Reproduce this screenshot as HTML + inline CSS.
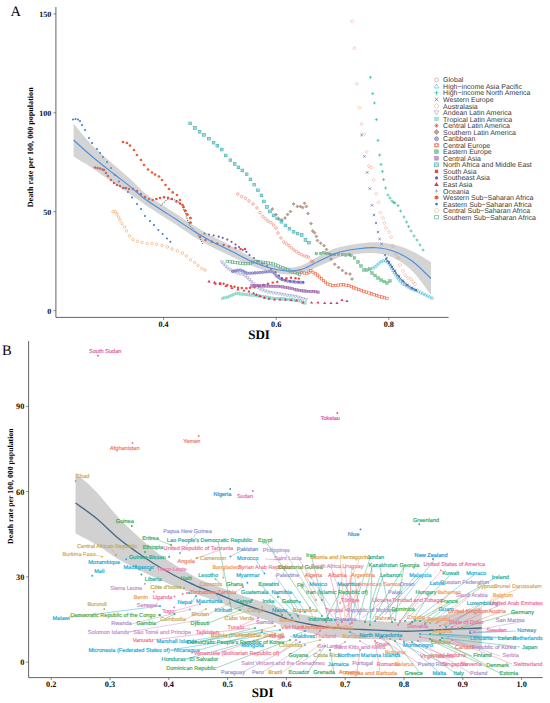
<!DOCTYPE html><html><head><meta charset="utf-8"><style>html,body{margin:0;padding:0;background:#fff}svg{display:block}</style></head><body>
<svg width="550" height="703" viewBox="0 0 550 703" text-rendering="geometricPrecision">
<rect width="550" height="703" fill="#fff"/>
<text x="10.5" y="15.8" font-family="Liberation Serif" font-size="14.5" fill="#000">A</text>
<circle cx="237.8" cy="194" r="1.30" fill="none" stroke="#f47a6c" stroke-width="0.6"/>
<circle cx="241.6" cy="196.5" r="1.30" fill="none" stroke="#f47a6c" stroke-width="0.6"/>
<circle cx="245.4" cy="198.3" r="1.30" fill="none" stroke="#f47a6c" stroke-width="0.6"/>
<circle cx="249" cy="200.9" r="1.30" fill="none" stroke="#f47a6c" stroke-width="0.6"/>
<circle cx="253" cy="204" r="1.30" fill="none" stroke="#f47a6c" stroke-width="0.6"/>
<circle cx="257" cy="208" r="1.30" fill="none" stroke="#f47a6c" stroke-width="0.6"/>
<circle cx="260" cy="212.7" r="1.30" fill="none" stroke="#f47a6c" stroke-width="0.6"/>
<circle cx="262.7" cy="216.4" r="1.30" fill="none" stroke="#f47a6c" stroke-width="0.6"/>
<circle cx="265.5" cy="218.5" r="1.30" fill="none" stroke="#f47a6c" stroke-width="0.6"/>
<circle cx="268" cy="221" r="1.30" fill="none" stroke="#f47a6c" stroke-width="0.6"/>
<circle cx="271" cy="222.7" r="1.30" fill="none" stroke="#f47a6c" stroke-width="0.6"/>
<circle cx="273.6" cy="225" r="1.30" fill="none" stroke="#f47a6c" stroke-width="0.6"/>
<circle cx="276" cy="228" r="1.30" fill="none" stroke="#f47a6c" stroke-width="0.6"/>
<circle cx="278" cy="233" r="1.30" fill="none" stroke="#f47a6c" stroke-width="0.6"/>
<circle cx="281" cy="238" r="1.30" fill="none" stroke="#f47a6c" stroke-width="0.6"/>
<circle cx="283.8" cy="242" r="1.30" fill="none" stroke="#f47a6c" stroke-width="0.6"/>
<circle cx="286.4" cy="243.8" r="1.30" fill="none" stroke="#f47a6c" stroke-width="0.6"/>
<circle cx="289" cy="245.7" r="1.30" fill="none" stroke="#f47a6c" stroke-width="0.6"/>
<circle cx="291.5" cy="247.9" r="1.30" fill="none" stroke="#f47a6c" stroke-width="0.6"/>
<circle cx="294" cy="250" r="1.30" fill="none" stroke="#f47a6c" stroke-width="0.6"/>
<circle cx="296.5" cy="251.7" r="1.30" fill="none" stroke="#f47a6c" stroke-width="0.6"/>
<circle cx="299" cy="253.4" r="1.30" fill="none" stroke="#f47a6c" stroke-width="0.6"/>
<circle cx="301.6" cy="254.6" r="1.30" fill="none" stroke="#f47a6c" stroke-width="0.6"/>
<circle cx="304.2" cy="256" r="1.30" fill="none" stroke="#f47a6c" stroke-width="0.6"/>
<circle cx="306.7" cy="256.5" r="1.30" fill="none" stroke="#f47a6c" stroke-width="0.6"/>
<circle cx="308.6" cy="257.2" r="1.30" fill="none" stroke="#f47a6c" stroke-width="0.6"/>
<circle cx="311.2" cy="261" r="1.30" fill="none" stroke="#f47a6c" stroke-width="0.6"/>
<circle cx="313" cy="261.6" r="1.30" fill="none" stroke="#f47a6c" stroke-width="0.6"/>
<path d="M373.0 266.4L374.6 269.1L371.4 269.1Z" fill="none" stroke="#35b8d8" stroke-width="0.55"/>
<path d="M375.1 265.0L376.7 267.7L373.5 267.7Z" fill="none" stroke="#35b8d8" stroke-width="0.55"/>
<path d="M377.1 263.3L378.7 266.0L375.5 266.0Z" fill="none" stroke="#35b8d8" stroke-width="0.55"/>
<path d="M378.9 261.5L380.5 264.2L377.3 264.2Z" fill="none" stroke="#35b8d8" stroke-width="0.55"/>
<path d="M381.0 260.0L382.6 262.7L379.4 262.7Z" fill="none" stroke="#35b8d8" stroke-width="0.55"/>
<path d="M383.3 259.0L384.9 261.7L381.7 261.7Z" fill="none" stroke="#35b8d8" stroke-width="0.55"/>
<path d="M385.7 258.9L387.3 261.6L384.1 261.6Z" fill="none" stroke="#35b8d8" stroke-width="0.55"/>
<path d="M387.8 260.3L389.4 263.0L386.2 263.0Z" fill="none" stroke="#35b8d8" stroke-width="0.55"/>
<path d="M389.4 262.3L391.0 265.0L387.8 265.0Z" fill="none" stroke="#35b8d8" stroke-width="0.55"/>
<path d="M391.0 264.3L392.6 267.0L389.4 267.0Z" fill="none" stroke="#35b8d8" stroke-width="0.55"/>
<path d="M392.1 266.6L393.7 269.3L390.5 269.3Z" fill="none" stroke="#35b8d8" stroke-width="0.55"/>
<path d="M393.3 268.9L394.9 271.6L391.7 271.6Z" fill="none" stroke="#35b8d8" stroke-width="0.55"/>
<path d="M394.5 271.2L396.1 273.9L392.9 273.9Z" fill="none" stroke="#35b8d8" stroke-width="0.55"/>
<path d="M396.0 273.3L397.6 276.0L394.4 276.0Z" fill="none" stroke="#35b8d8" stroke-width="0.55"/>
<path d="M397.4 275.5L399.0 278.2L395.8 278.2Z" fill="none" stroke="#35b8d8" stroke-width="0.55"/>
<path d="M398.9 277.5L400.5 280.2L397.3 280.2Z" fill="none" stroke="#35b8d8" stroke-width="0.55"/>
<path d="M400.5 279.5L402.1 282.2L398.9 282.2Z" fill="none" stroke="#35b8d8" stroke-width="0.55"/>
<path d="M402.2 281.5L403.8 284.2L400.6 284.2Z" fill="none" stroke="#35b8d8" stroke-width="0.55"/>
<path d="M404.4 282.8L406.0 285.5L402.8 285.5Z" fill="none" stroke="#35b8d8" stroke-width="0.55"/>
<path d="M406.6 284.1L408.2 286.8L405.0 286.8Z" fill="none" stroke="#35b8d8" stroke-width="0.55"/>
<path d="M408.8 285.5L410.4 288.2L407.2 288.2Z" fill="none" stroke="#35b8d8" stroke-width="0.55"/>
<path d="M411.0 286.8L412.6 289.5L409.4 289.5Z" fill="none" stroke="#35b8d8" stroke-width="0.55"/>
<path d="M413.3 287.8L414.9 290.5L411.7 290.5Z" fill="none" stroke="#35b8d8" stroke-width="0.55"/>
<path d="M415.8 288.7L417.4 291.4L414.2 291.4Z" fill="none" stroke="#35b8d8" stroke-width="0.55"/>
<path d="M418.2 289.5L419.8 292.2L416.6 292.2Z" fill="none" stroke="#35b8d8" stroke-width="0.55"/>
<path d="M420.5 290.6L422.1 293.3L418.9 293.3Z" fill="none" stroke="#35b8d8" stroke-width="0.55"/>
<path d="M422.8 291.8L424.4 294.5L421.2 294.5Z" fill="none" stroke="#35b8d8" stroke-width="0.55"/>
<path d="M425.1 292.9L426.7 295.6L423.5 295.6Z" fill="none" stroke="#35b8d8" stroke-width="0.55"/>
<path d="M427.4 294.1L429.0 296.8L425.8 296.8Z" fill="none" stroke="#35b8d8" stroke-width="0.55"/>
<path d="M429.7 295.2L431.3 297.9L428.1 297.9Z" fill="none" stroke="#35b8d8" stroke-width="0.55"/>
<path d="M432.0 296.4L433.6 299.1L430.4 299.1Z" fill="none" stroke="#35b8d8" stroke-width="0.55"/>
<path d="M369.0 77.3H372.0M370.5 75.8V78.8" stroke="#2bb99a" stroke-width="0.7"/>
<path d="M371.2 93.6H374.2M372.7 92.1V95.1" stroke="#2bb99a" stroke-width="0.7"/>
<path d="M372.9 103H375.9M374.4 101.5V104.5" stroke="#2bb99a" stroke-width="0.7"/>
<path d="M374.9 119.6H377.9M376.4 118.1V121.1" stroke="#2bb99a" stroke-width="0.7"/>
<path d="M376.5 140.4H379.5M378 138.9V141.9" stroke="#2bb99a" stroke-width="0.7"/>
<path d="M378.1 155H381.1M379.6 153.5V156.5" stroke="#2bb99a" stroke-width="0.7"/>
<path d="M379.5 164.4H382.5M381 162.9V165.9" stroke="#2bb99a" stroke-width="0.7"/>
<path d="M380.9 171.4H383.9M382.4 169.9V172.9" stroke="#2bb99a" stroke-width="0.7"/>
<path d="M382.1 179.6H385.1M383.6 178.1V181.1" stroke="#2bb99a" stroke-width="0.7"/>
<path d="M384.1 188H387.1M385.6 186.5V189.5" stroke="#2bb99a" stroke-width="0.7"/>
<path d="M386.5 195H389.5M388 193.5V196.5" stroke="#2bb99a" stroke-width="0.7"/>
<path d="M388.5 198H391.5M390 196.5V199.5" stroke="#2bb99a" stroke-width="0.7"/>
<path d="M390.5 201H393.5M392 199.5V202.5" stroke="#2bb99a" stroke-width="0.7"/>
<path d="M392.1 202.4H395.1M393.6 200.9V203.9" stroke="#2bb99a" stroke-width="0.7"/>
<path d="M393.5 203H396.5M395 201.5V204.5" stroke="#2bb99a" stroke-width="0.7"/>
<path d="M396.5 205.6H399.5M398 204.1V207.1" stroke="#2bb99a" stroke-width="0.7"/>
<path d="M399.1 211H402.1M400.6 209.5V212.5" stroke="#2bb99a" stroke-width="0.7"/>
<path d="M402.5 217H405.5M404 215.5V218.5" stroke="#2bb99a" stroke-width="0.7"/>
<path d="M405.1 222H408.1M406.6 220.5V223.5" stroke="#2bb99a" stroke-width="0.7"/>
<path d="M407.1 226.6H410.1M408.6 225.1V228.1" stroke="#2bb99a" stroke-width="0.7"/>
<path d="M409.5 231H412.5M411 229.5V232.5" stroke="#2bb99a" stroke-width="0.7"/>
<path d="M412.5 236H415.5M414 234.5V237.5" stroke="#2bb99a" stroke-width="0.7"/>
<path d="M415.5 240H418.5M417 238.5V241.5" stroke="#2bb99a" stroke-width="0.7"/>
<path d="M418.5 245H421.5M420 243.5V246.5" stroke="#2bb99a" stroke-width="0.7"/>
<path d="M421.5 250H424.5M423 248.5V251.5" stroke="#2bb99a" stroke-width="0.7"/>
<path d="M360.4 133.8L362.8 136.2M360.4 136.2L362.8 133.8" stroke="#4c5a9c" stroke-width="0.65"/>
<path d="M363.2 155.2L365.6 157.6M363.2 157.6L365.6 155.2" stroke="#4c5a9c" stroke-width="0.65"/>
<path d="M366.0 171.2L368.4 173.6M366.0 173.6L368.4 171.2" stroke="#4c5a9c" stroke-width="0.65"/>
<path d="M368.6 187.4L371.0 189.8M368.6 189.8L371.0 187.4" stroke="#4c5a9c" stroke-width="0.65"/>
<path d="M370.8 204.2L373.2 206.6M370.8 206.6L373.2 204.2" stroke="#4c5a9c" stroke-width="0.65"/>
<path d="M372.8 213.8L375.2 216.2M372.8 216.2L375.2 213.8" stroke="#4c5a9c" stroke-width="0.65"/>
<path d="M374.8 221.8L377.2 224.2M374.8 224.2L377.2 221.8" stroke="#4c5a9c" stroke-width="0.65"/>
<path d="M376.8 230.8L379.2 233.2M376.8 233.2L379.2 230.8" stroke="#4c5a9c" stroke-width="0.65"/>
<path d="M378.4 237.8L380.8 240.2M378.4 240.2L380.8 237.8" stroke="#4c5a9c" stroke-width="0.65"/>
<path d="M380.4 242.8L382.8 245.2M380.4 245.2L382.8 242.8" stroke="#4c5a9c" stroke-width="0.65"/>
<path d="M383.8 253.8L386.2 256.2M383.8 256.2L386.2 253.8" stroke="#4c5a9c" stroke-width="0.65"/>
<path d="M385.4 256.8L387.8 259.2M385.4 259.2L387.8 256.8" stroke="#4c5a9c" stroke-width="0.65"/>
<path d="M387.8 260.8L390.2 263.2M387.8 263.2L390.2 260.8" stroke="#4c5a9c" stroke-width="0.65"/>
<path d="M390.8 265.8L393.2 268.2M390.8 268.2L393.2 265.8" stroke="#4c5a9c" stroke-width="0.65"/>
<path d="M393.8 269.8L396.2 272.2M393.8 272.2L396.2 269.8" stroke="#4c5a9c" stroke-width="0.65"/>
<path d="M397.8 274.8L400.2 277.2M397.8 277.2L400.2 274.8" stroke="#4c5a9c" stroke-width="0.65"/>
<path d="M401.8 279.8L404.2 282.2M401.8 282.2L404.2 279.8" stroke="#4c5a9c" stroke-width="0.65"/>
<path d="M405.8 283.8L408.2 286.2M405.8 286.2L408.2 283.8" stroke="#4c5a9c" stroke-width="0.65"/>
<path d="M410.8 286.8L413.2 289.2M410.8 289.2L413.2 286.8" stroke="#4c5a9c" stroke-width="0.65"/>
<path d="M414.8 288.8L417.2 291.2M414.8 291.2L417.2 288.8" stroke="#4c5a9c" stroke-width="0.65"/>
<path d="M384.9 257.9L387.1 260.1M384.9 260.1L387.1 257.9" stroke="#4c5a9c" stroke-width="0.65"/>
<path d="M386.4 259.8L388.6 262.0M386.4 262.0L388.6 259.8" stroke="#4c5a9c" stroke-width="0.65"/>
<path d="M387.8 261.8L390.0 264.0M387.8 264.0L390.0 261.8" stroke="#4c5a9c" stroke-width="0.65"/>
<path d="M389.3 263.7L391.5 265.9M389.3 265.9L391.5 263.7" stroke="#4c5a9c" stroke-width="0.65"/>
<path d="M390.7 265.7L392.9 267.9M390.7 267.9L392.9 265.7" stroke="#4c5a9c" stroke-width="0.65"/>
<path d="M392.1 267.7L394.3 269.9M392.1 269.9L394.3 267.7" stroke="#4c5a9c" stroke-width="0.65"/>
<path d="M393.5 269.7L395.7 271.9M393.5 271.9L395.7 269.7" stroke="#4c5a9c" stroke-width="0.65"/>
<path d="M394.8 271.8L397.0 274.0M394.8 274.0L397.0 271.8" stroke="#4c5a9c" stroke-width="0.65"/>
<path d="M396.2 273.8L398.4 276.0M396.2 276.0L398.4 273.8" stroke="#4c5a9c" stroke-width="0.65"/>
<path d="M397.7 275.7L399.9 277.9M397.7 277.9L399.9 275.7" stroke="#4c5a9c" stroke-width="0.65"/>
<path d="M399.4 277.4L401.6 279.6M399.4 279.6L401.6 277.4" stroke="#4c5a9c" stroke-width="0.65"/>
<path d="M401.1 279.1L403.3 281.3M401.1 281.3L403.3 279.1" stroke="#4c5a9c" stroke-width="0.65"/>
<path d="M402.8 280.8L405.0 283.0M402.8 283.0L405.0 280.8" stroke="#4c5a9c" stroke-width="0.65"/>
<path d="M404.7 282.4L406.9 284.6M404.7 284.6L406.9 282.4" stroke="#4c5a9c" stroke-width="0.65"/>
<path d="M406.6 284.0L408.8 286.2M406.6 286.2L408.8 284.0" stroke="#4c5a9c" stroke-width="0.65"/>
<path d="M408.4 285.5L410.6 287.7M408.4 287.7L410.6 285.5" stroke="#4c5a9c" stroke-width="0.65"/>
<path d="M410.5 286.7L412.7 288.9M410.5 288.9L412.7 286.7" stroke="#4c5a9c" stroke-width="0.65"/>
<path d="M412.7 287.8L414.9 290.0M412.7 290.0L414.9 287.8" stroke="#4c5a9c" stroke-width="0.65"/>
<path d="M414.9 288.9L417.1 291.1M414.9 291.1L417.1 288.9" stroke="#4c5a9c" stroke-width="0.65"/>
<path d="M352.2 19.6L353.9 21.3L352.2 23.0L350.5 21.3Z" fill="none" stroke="#f59a82" stroke-width="0.55"/>
<path d="M354.4 46.6L356.1 48.3L354.4 50.0L352.7 48.3Z" fill="none" stroke="#f59a82" stroke-width="0.55"/>
<path d="M356.8 82.0L358.5 83.7L356.8 85.4L355.1 83.7Z" fill="none" stroke="#f59a82" stroke-width="0.55"/>
<path d="M359.4 105.9L361.1 107.6L359.4 109.3L357.7 107.6Z" fill="none" stroke="#f59a82" stroke-width="0.55"/>
<path d="M361.6 122.3L363.3 124L361.6 125.7L359.9 124Z" fill="none" stroke="#f59a82" stroke-width="0.55"/>
<path d="M364.4 132.3L366.1 134L364.4 135.7L362.7 134Z" fill="none" stroke="#f59a82" stroke-width="0.55"/>
<path d="M366.6 150.3L368.3 152L366.6 153.7L364.9 152Z" fill="none" stroke="#f59a82" stroke-width="0.55"/>
<path d="M369 164.3L370.7 166L369 167.7L367.3 166Z" fill="none" stroke="#f59a82" stroke-width="0.55"/>
<path d="M371.4 165.9L373.1 167.6L371.4 169.3L369.7 167.6Z" fill="none" stroke="#f59a82" stroke-width="0.55"/>
<path d="M373.6 178.3L375.3 180L373.6 181.7L371.9 180Z" fill="none" stroke="#f59a82" stroke-width="0.55"/>
<path d="M376.4 191.9L378.1 193.6L376.4 195.3L374.7 193.6Z" fill="none" stroke="#f59a82" stroke-width="0.55"/>
<path d="M378.6 200.7L380.3 202.4L378.6 204.1L376.9 202.4Z" fill="none" stroke="#f59a82" stroke-width="0.55"/>
<path d="M380.6 210.9L382.3 212.6L380.6 214.3L378.9 212.6Z" fill="none" stroke="#f59a82" stroke-width="0.55"/>
<path d="M383 216.3L384.7 218L383 219.7L381.3 218Z" fill="none" stroke="#f59a82" stroke-width="0.55"/>
<path d="M384.4 221.3L386.1 223L384.4 224.7L382.7 223Z" fill="none" stroke="#f59a82" stroke-width="0.55"/>
<path d="M386 226.3L387.7 228L386 229.7L384.3 228Z" fill="none" stroke="#f59a82" stroke-width="0.55"/>
<path d="M389 230.3L390.7 232L389 233.7L387.3 232Z" fill="none" stroke="#f59a82" stroke-width="0.55"/>
<path d="M391 235.3L392.7 237L391 238.7L389.3 237Z" fill="none" stroke="#f59a82" stroke-width="0.55"/>
<path d="M393 244.3L394.7 246L393 247.7L391.3 246Z" fill="none" stroke="#f59a82" stroke-width="0.55"/>
<path d="M396 252.3L397.7 254L396 255.7L394.3 254Z" fill="none" stroke="#f59a82" stroke-width="0.55"/>
<path d="M398 256.3L399.7 258L398 259.7L396.3 258Z" fill="none" stroke="#f59a82" stroke-width="0.55"/>
<path d="M400 263.3L401.7 265L400 266.7L398.3 265Z" fill="none" stroke="#f59a82" stroke-width="0.55"/>
<path d="M403 269.3L404.7 271L403 272.7L401.3 271Z" fill="none" stroke="#f59a82" stroke-width="0.55"/>
<path d="M405 273.3L406.7 275L405 276.7L403.3 275Z" fill="none" stroke="#f59a82" stroke-width="0.55"/>
<path d="M408 276.3L409.7 278L408 279.7L406.3 278Z" fill="none" stroke="#f59a82" stroke-width="0.55"/>
<path d="M411 277.3L412.7 279L411 280.7L409.3 279Z" fill="none" stroke="#f59a82" stroke-width="0.55"/>
<path d="M413 280.3L414.7 282L413 283.7L411.3 282Z" fill="none" stroke="#f59a82" stroke-width="0.55"/>
<path d="M415 282.3L416.7 284L415 285.7L413.3 284Z" fill="none" stroke="#f59a82" stroke-width="0.55"/>
<path d="M221.8 263.6L223.4 260.9L220.2 260.9Z" fill="none" stroke="#9297cc" stroke-width="0.55"/>
<path d="M223.7 265.7L225.3 263.0L222.1 263.0Z" fill="none" stroke="#9297cc" stroke-width="0.55"/>
<path d="M225.6 267.7L227.2 265.0L224.0 265.0Z" fill="none" stroke="#9297cc" stroke-width="0.55"/>
<path d="M227.5 269.7L229.1 267.0L225.9 267.0Z" fill="none" stroke="#9297cc" stroke-width="0.55"/>
<path d="M229.8 271.3L231.4 268.6L228.2 268.6Z" fill="none" stroke="#9297cc" stroke-width="0.55"/>
<path d="M232.3 272.6L233.9 269.9L230.7 269.9Z" fill="none" stroke="#9297cc" stroke-width="0.55"/>
<path d="M234.9 273.7L236.5 271.0L233.3 271.0Z" fill="none" stroke="#9297cc" stroke-width="0.55"/>
<path d="M237.5 274.7L239.1 272.0L235.9 272.0Z" fill="none" stroke="#9297cc" stroke-width="0.55"/>
<path d="M240.2 275.6L241.8 272.9L238.6 272.9Z" fill="none" stroke="#9297cc" stroke-width="0.55"/>
<path d="M242.9 276.2L244.5 273.5L241.3 273.5Z" fill="none" stroke="#9297cc" stroke-width="0.55"/>
<path d="M245.3 277.4L246.9 274.7L243.7 274.7Z" fill="none" stroke="#9297cc" stroke-width="0.55"/>
<path d="M247.3 279.3L248.9 276.6L245.7 276.6Z" fill="none" stroke="#9297cc" stroke-width="0.55"/>
<path d="M249.3 281.3L250.9 278.6L247.7 278.6Z" fill="none" stroke="#9297cc" stroke-width="0.55"/>
<path d="M251.3 283.3L252.9 280.6L249.7 280.6Z" fill="none" stroke="#9297cc" stroke-width="0.55"/>
<path d="M253.3 285.3L254.9 282.6L251.7 282.6Z" fill="none" stroke="#9297cc" stroke-width="0.55"/>
<path d="M255.3 287.2L256.9 284.5L253.7 284.5Z" fill="none" stroke="#9297cc" stroke-width="0.55"/>
<path d="M257.5 289.0L259.1 286.3L255.9 286.3Z" fill="none" stroke="#9297cc" stroke-width="0.55"/>
<path d="M259.8 290.5L261.4 287.8L258.2 287.8Z" fill="none" stroke="#9297cc" stroke-width="0.55"/>
<path d="M262.4 291.6L264.0 288.9L260.8 288.9Z" fill="none" stroke="#9297cc" stroke-width="0.55"/>
<path d="M265.0 292.6L266.6 289.9L263.4 289.9Z" fill="none" stroke="#9297cc" stroke-width="0.55"/>
<path d="M267.7 293.5L269.3 290.8L266.1 290.8Z" fill="none" stroke="#9297cc" stroke-width="0.55"/>
<path d="M270.4 294.1L272.0 291.4L268.8 291.4Z" fill="none" stroke="#9297cc" stroke-width="0.55"/>
<path d="M273.1 294.6L274.7 291.9L271.5 291.9Z" fill="none" stroke="#9297cc" stroke-width="0.55"/>
<path d="M275.9 295.0L277.5 292.3L274.3 292.3Z" fill="none" stroke="#9297cc" stroke-width="0.55"/>
<path d="M278.7 295.4L280.3 292.7L277.1 292.7Z" fill="none" stroke="#9297cc" stroke-width="0.55"/>
<path d="M281.5 295.9L283.1 293.2L279.9 293.2Z" fill="none" stroke="#9297cc" stroke-width="0.55"/>
<path d="M284.2 296.4L285.8 293.7L282.6 293.7Z" fill="none" stroke="#9297cc" stroke-width="0.55"/>
<path d="M287.0 296.9L288.6 294.2L285.4 294.2Z" fill="none" stroke="#9297cc" stroke-width="0.55"/>
<path d="M289.7 297.4L291.3 294.7L288.1 294.7Z" fill="none" stroke="#9297cc" stroke-width="0.55"/>
<path d="M292.5 297.7L294.1 295.0L290.9 295.0Z" fill="none" stroke="#9297cc" stroke-width="0.55"/>
<path d="M295.3 298.0L296.9 295.3L293.7 295.3Z" fill="none" stroke="#9297cc" stroke-width="0.55"/>
<path d="M298.0 298.7L299.6 296.0L296.4 296.0Z" fill="none" stroke="#9297cc" stroke-width="0.55"/>
<path d="M300.6 299.6L302.2 296.9L299.0 296.9Z" fill="none" stroke="#9297cc" stroke-width="0.55"/>
<path d="M303.3 300.4L304.9 297.7L301.7 297.7Z" fill="none" stroke="#9297cc" stroke-width="0.55"/>
<path d="M306.0 301.2L307.6 298.5L304.4 298.5Z" fill="none" stroke="#9297cc" stroke-width="0.55"/>
<rect x="221.5" y="297.1" width="2.4" height="2.4" fill="#72d1b9" fill-opacity="0.6" stroke="#72d1b9" stroke-width="0.4"/>
<rect x="223.8" y="296.5" width="2.4" height="2.4" fill="#72d1b9" fill-opacity="0.6" stroke="#72d1b9" stroke-width="0.4"/>
<rect x="226.2" y="296.0" width="2.4" height="2.4" fill="#72d1b9" fill-opacity="0.6" stroke="#72d1b9" stroke-width="0.4"/>
<rect x="228.4" y="295.1" width="2.4" height="2.4" fill="#72d1b9" fill-opacity="0.6" stroke="#72d1b9" stroke-width="0.4"/>
<rect x="230.6" y="294.2" width="2.4" height="2.4" fill="#72d1b9" fill-opacity="0.6" stroke="#72d1b9" stroke-width="0.4"/>
<rect x="232.8" y="293.1" width="2.4" height="2.4" fill="#72d1b9" fill-opacity="0.6" stroke="#72d1b9" stroke-width="0.4"/>
<rect x="235.0" y="292.1" width="2.4" height="2.4" fill="#72d1b9" fill-opacity="0.6" stroke="#72d1b9" stroke-width="0.4"/>
<rect x="237.3" y="292.4" width="2.4" height="2.4" fill="#72d1b9" fill-opacity="0.6" stroke="#72d1b9" stroke-width="0.4"/>
<rect x="239.7" y="292.8" width="2.4" height="2.4" fill="#72d1b9" fill-opacity="0.6" stroke="#72d1b9" stroke-width="0.4"/>
<rect x="242.1" y="293.1" width="2.4" height="2.4" fill="#72d1b9" fill-opacity="0.6" stroke="#72d1b9" stroke-width="0.4"/>
<rect x="244.5" y="293.4" width="2.4" height="2.4" fill="#72d1b9" fill-opacity="0.6" stroke="#72d1b9" stroke-width="0.4"/>
<rect x="246.9" y="293.6" width="2.4" height="2.4" fill="#72d1b9" fill-opacity="0.6" stroke="#72d1b9" stroke-width="0.4"/>
<rect x="249.3" y="293.8" width="2.4" height="2.4" fill="#72d1b9" fill-opacity="0.6" stroke="#72d1b9" stroke-width="0.4"/>
<rect x="251.7" y="293.9" width="2.4" height="2.4" fill="#72d1b9" fill-opacity="0.6" stroke="#72d1b9" stroke-width="0.4"/>
<rect x="254.1" y="294.1" width="2.4" height="2.4" fill="#72d1b9" fill-opacity="0.6" stroke="#72d1b9" stroke-width="0.4"/>
<rect x="256.5" y="294.5" width="2.4" height="2.4" fill="#72d1b9" fill-opacity="0.6" stroke="#72d1b9" stroke-width="0.4"/>
<rect x="258.8" y="294.9" width="2.4" height="2.4" fill="#72d1b9" fill-opacity="0.6" stroke="#72d1b9" stroke-width="0.4"/>
<rect x="261.2" y="295.4" width="2.4" height="2.4" fill="#72d1b9" fill-opacity="0.6" stroke="#72d1b9" stroke-width="0.4"/>
<rect x="263.6" y="295.7" width="2.4" height="2.4" fill="#72d1b9" fill-opacity="0.6" stroke="#72d1b9" stroke-width="0.4"/>
<rect x="266.0" y="296.0" width="2.4" height="2.4" fill="#72d1b9" fill-opacity="0.6" stroke="#72d1b9" stroke-width="0.4"/>
<rect x="268.3" y="296.5" width="2.4" height="2.4" fill="#72d1b9" fill-opacity="0.6" stroke="#72d1b9" stroke-width="0.4"/>
<rect x="270.7" y="296.9" width="2.4" height="2.4" fill="#72d1b9" fill-opacity="0.6" stroke="#72d1b9" stroke-width="0.4"/>
<rect x="273.1" y="297.2" width="2.4" height="2.4" fill="#72d1b9" fill-opacity="0.6" stroke="#72d1b9" stroke-width="0.4"/>
<rect x="275.5" y="297.3" width="2.4" height="2.4" fill="#72d1b9" fill-opacity="0.6" stroke="#72d1b9" stroke-width="0.4"/>
<rect x="277.9" y="297.5" width="2.4" height="2.4" fill="#72d1b9" fill-opacity="0.6" stroke="#72d1b9" stroke-width="0.4"/>
<rect x="280.3" y="297.6" width="2.4" height="2.4" fill="#72d1b9" fill-opacity="0.6" stroke="#72d1b9" stroke-width="0.4"/>
<rect x="282.7" y="297.8" width="2.4" height="2.4" fill="#72d1b9" fill-opacity="0.6" stroke="#72d1b9" stroke-width="0.4"/>
<rect x="285.1" y="298.0" width="2.4" height="2.4" fill="#72d1b9" fill-opacity="0.6" stroke="#72d1b9" stroke-width="0.4"/>
<rect x="287.5" y="298.3" width="2.4" height="2.4" fill="#72d1b9" fill-opacity="0.6" stroke="#72d1b9" stroke-width="0.4"/>
<rect x="289.9" y="298.5" width="2.4" height="2.4" fill="#72d1b9" fill-opacity="0.6" stroke="#72d1b9" stroke-width="0.4"/>
<rect x="292.3" y="298.7" width="2.4" height="2.4" fill="#72d1b9" fill-opacity="0.6" stroke="#72d1b9" stroke-width="0.4"/>
<rect x="294.7" y="299.0" width="2.4" height="2.4" fill="#72d1b9" fill-opacity="0.6" stroke="#72d1b9" stroke-width="0.4"/>
<rect x="297.1" y="299.2" width="2.4" height="2.4" fill="#72d1b9" fill-opacity="0.6" stroke="#72d1b9" stroke-width="0.4"/>
<rect x="299.4" y="299.9" width="2.4" height="2.4" fill="#72d1b9" fill-opacity="0.6" stroke="#72d1b9" stroke-width="0.4"/>
<rect x="301.6" y="300.9" width="2.4" height="2.4" fill="#72d1b9" fill-opacity="0.6" stroke="#72d1b9" stroke-width="0.4"/>
<rect x="303.8" y="301.8" width="2.4" height="2.4" fill="#72d1b9" fill-opacity="0.6" stroke="#72d1b9" stroke-width="0.4"/>
<circle cx="215.5" cy="283.7" r="1.21" fill="#ef4a3a"/>
<circle cx="220" cy="283.2" r="1.21" fill="#ef4a3a"/>
<circle cx="223.6" cy="283.7" r="1.21" fill="#ef4a3a"/>
<circle cx="227.3" cy="285" r="1.21" fill="#ef4a3a"/>
<circle cx="231" cy="286.3" r="1.21" fill="#ef4a3a"/>
<circle cx="234.5" cy="286.8" r="1.21" fill="#ef4a3a"/>
<circle cx="238" cy="287.7" r="1.21" fill="#ef4a3a"/>
<circle cx="241.8" cy="288" r="1.21" fill="#ef4a3a"/>
<circle cx="246.4" cy="288.3" r="1.21" fill="#ef4a3a"/>
<circle cx="250" cy="287.7" r="1.21" fill="#ef4a3a"/>
<circle cx="254.5" cy="287.4" r="1.21" fill="#ef4a3a"/>
<circle cx="259" cy="286.3" r="1.21" fill="#ef4a3a"/>
<circle cx="263.6" cy="285" r="1.21" fill="#ef4a3a"/>
<circle cx="268" cy="283.7" r="1.21" fill="#ef4a3a"/>
<circle cx="272.7" cy="282.6" r="1.21" fill="#ef4a3a"/>
<circle cx="277.3" cy="281.9" r="1.21" fill="#ef4a3a"/>
<circle cx="281.8" cy="279.5" r="1.21" fill="#ef4a3a"/>
<circle cx="286.4" cy="278.3" r="1.21" fill="#ef4a3a"/>
<circle cx="291" cy="277.7" r="1.21" fill="#ef4a3a"/>
<circle cx="295.5" cy="278.3" r="1.21" fill="#ef4a3a"/>
<circle cx="299" cy="278.6" r="1.21" fill="#ef4a3a"/>
<path d="M272.4 207.5L273.9 209L272.4 210.5L270.9 209Z" fill="#9d7c69" fill-opacity="0.7" stroke="#9d7c69" stroke-width="0.5"/>
<path d="M276 213.0L277.5 214.5L276 216.0L274.5 214.5Z" fill="#9d7c69" fill-opacity="0.7" stroke="#9d7c69" stroke-width="0.5"/>
<path d="M279 217.5L280.5 219L279 220.5L277.5 219Z" fill="#9d7c69" fill-opacity="0.7" stroke="#9d7c69" stroke-width="0.5"/>
<path d="M281.8 218.5L283.3 220L281.8 221.5L280.3 220Z" fill="#9d7c69" fill-opacity="0.7" stroke="#9d7c69" stroke-width="0.5"/>
<path d="M285 216.5L286.5 218L285 219.5L283.5 218Z" fill="#9d7c69" fill-opacity="0.7" stroke="#9d7c69" stroke-width="0.5"/>
<path d="M287.6 213.0L289.1 214.5L287.6 216.0L286.1 214.5Z" fill="#9d7c69" fill-opacity="0.7" stroke="#9d7c69" stroke-width="0.5"/>
<path d="M290.5 210.0L292.0 211.5L290.5 213.0L289.0 211.5Z" fill="#9d7c69" fill-opacity="0.7" stroke="#9d7c69" stroke-width="0.5"/>
<path d="M293.6 202.5L295.1 204L293.6 205.5L292.1 204Z" fill="#9d7c69" fill-opacity="0.7" stroke="#9d7c69" stroke-width="0.5"/>
<path d="M297.3 204.9L298.8 206.4L297.3 207.9L295.8 206.4Z" fill="#9d7c69" fill-opacity="0.7" stroke="#9d7c69" stroke-width="0.5"/>
<path d="M300.4 204.9L301.9 206.4L300.4 207.9L298.9 206.4Z" fill="#9d7c69" fill-opacity="0.7" stroke="#9d7c69" stroke-width="0.5"/>
<path d="M302.7 206.1L304.2 207.6L302.7 209.1L301.2 207.6Z" fill="#9d7c69" fill-opacity="0.7" stroke="#9d7c69" stroke-width="0.5"/>
<path d="M304.5 201.8L306.0 203.3L304.5 204.8L303.0 203.3Z" fill="#9d7c69" fill-opacity="0.7" stroke="#9d7c69" stroke-width="0.5"/>
<path d="M306.4 204.9L307.9 206.4L306.4 207.9L304.9 206.4Z" fill="#9d7c69" fill-opacity="0.7" stroke="#9d7c69" stroke-width="0.5"/>
<path d="M308 212.1L309.5 213.6L308 215.1L306.5 213.6Z" fill="#9d7c69" fill-opacity="0.7" stroke="#9d7c69" stroke-width="0.5"/>
<path d="M311 222.1L312.5 223.6L311 225.1L309.5 223.6Z" fill="#9d7c69" fill-opacity="0.7" stroke="#9d7c69" stroke-width="0.5"/>
<path d="M312.7 229.5L314.2 231L312.7 232.5L311.2 231Z" fill="#9d7c69" fill-opacity="0.7" stroke="#9d7c69" stroke-width="0.5"/>
<path d="M314.5 231.2L316.0 232.7L314.5 234.2L313.0 232.7Z" fill="#9d7c69" fill-opacity="0.7" stroke="#9d7c69" stroke-width="0.5"/>
<path d="M316.4 234.9L317.9 236.4L316.4 237.9L314.9 236.4Z" fill="#9d7c69" fill-opacity="0.7" stroke="#9d7c69" stroke-width="0.5"/>
<path d="M317.5 239.1L319.0 240.6L317.5 242.1L316.0 240.6Z" fill="#9d7c69" fill-opacity="0.7" stroke="#9d7c69" stroke-width="0.5"/>
<path d="M320.7 241.7L322.2 243.2L320.7 244.7L319.2 243.2Z" fill="#9d7c69" fill-opacity="0.7" stroke="#9d7c69" stroke-width="0.5"/>
<path d="M324 244.2L325.5 245.7L324 247.2L322.5 245.7Z" fill="#9d7c69" fill-opacity="0.7" stroke="#9d7c69" stroke-width="0.5"/>
<path d="M326.5 248.0L328.0 249.5L326.5 251.0L325.0 249.5Z" fill="#9d7c69" fill-opacity="0.7" stroke="#9d7c69" stroke-width="0.5"/>
<path d="M329.6 252.5L331.1 254L329.6 255.5L328.1 254Z" fill="#9d7c69" fill-opacity="0.7" stroke="#9d7c69" stroke-width="0.5"/>
<path d="M331 257.5L332.5 259L331 260.5L329.5 259Z" fill="#9d7c69" fill-opacity="0.7" stroke="#9d7c69" stroke-width="0.5"/>
<path d="M334.7 262.7L336.2 264.2L334.7 265.7L333.2 264.2Z" fill="#9d7c69" fill-opacity="0.7" stroke="#9d7c69" stroke-width="0.5"/>
<path d="M338.5 265.9L340.0 267.4L338.5 268.9L337.0 267.4Z" fill="#9d7c69" fill-opacity="0.7" stroke="#9d7c69" stroke-width="0.5"/>
<path d="M342.4 269.0L343.9 270.5L342.4 272.0L340.9 270.5Z" fill="#9d7c69" fill-opacity="0.7" stroke="#9d7c69" stroke-width="0.5"/>
<path d="M346 271.8L347.5 273.3L346 274.8L344.5 273.3Z" fill="#9d7c69" fill-opacity="0.7" stroke="#9d7c69" stroke-width="0.5"/>
<path d="M350 272.5L351.5 274L350 275.5L348.5 274Z" fill="#9d7c69" fill-opacity="0.7" stroke="#9d7c69" stroke-width="0.5"/>
<path d="M352 277.5L353.5 279L352 280.5L350.5 279Z" fill="#9d7c69" fill-opacity="0.7" stroke="#9d7c69" stroke-width="0.5"/>
<circle cx="232.7" cy="271.4" r="1.30" fill="#6f6fc0" fill-opacity="0.55" stroke="#6f6fc0" stroke-width="0.6"/>
<circle cx="235.2" cy="270.8" r="1.30" fill="#6f6fc0" fill-opacity="0.55" stroke="#6f6fc0" stroke-width="0.6"/>
<circle cx="237.7" cy="270.3" r="1.30" fill="#6f6fc0" fill-opacity="0.55" stroke="#6f6fc0" stroke-width="0.6"/>
<circle cx="240.3" cy="270.1" r="1.30" fill="#6f6fc0" fill-opacity="0.55" stroke="#6f6fc0" stroke-width="0.6"/>
<circle cx="242.7" cy="271.0" r="1.30" fill="#6f6fc0" fill-opacity="0.55" stroke="#6f6fc0" stroke-width="0.6"/>
<circle cx="245.0" cy="272.1" r="1.30" fill="#6f6fc0" fill-opacity="0.55" stroke="#6f6fc0" stroke-width="0.6"/>
<circle cx="247.3" cy="273.2" r="1.30" fill="#6f6fc0" fill-opacity="0.55" stroke="#6f6fc0" stroke-width="0.6"/>
<circle cx="249.9" cy="273.2" r="1.30" fill="#6f6fc0" fill-opacity="0.55" stroke="#6f6fc0" stroke-width="0.6"/>
<circle cx="252.5" cy="273.1" r="1.30" fill="#6f6fc0" fill-opacity="0.55" stroke="#6f6fc0" stroke-width="0.6"/>
<circle cx="255.0" cy="272.9" r="1.30" fill="#6f6fc0" fill-opacity="0.55" stroke="#6f6fc0" stroke-width="0.6"/>
<circle cx="257.6" cy="272.7" r="1.30" fill="#6f6fc0" fill-opacity="0.55" stroke="#6f6fc0" stroke-width="0.6"/>
<circle cx="260.1" cy="272.5" r="1.30" fill="#6f6fc0" fill-opacity="0.55" stroke="#6f6fc0" stroke-width="0.6"/>
<circle cx="262.7" cy="272.2" r="1.30" fill="#6f6fc0" fill-opacity="0.55" stroke="#6f6fc0" stroke-width="0.6"/>
<circle cx="265.3" cy="271.9" r="1.30" fill="#6f6fc0" fill-opacity="0.55" stroke="#6f6fc0" stroke-width="0.6"/>
<circle cx="267.8" cy="271.7" r="1.30" fill="#6f6fc0" fill-opacity="0.55" stroke="#6f6fc0" stroke-width="0.6"/>
<circle cx="270.4" cy="271.5" r="1.30" fill="#6f6fc0" fill-opacity="0.55" stroke="#6f6fc0" stroke-width="0.6"/>
<circle cx="272.8" cy="272.0" r="1.30" fill="#6f6fc0" fill-opacity="0.55" stroke="#6f6fc0" stroke-width="0.6"/>
<circle cx="274.8" cy="273.6" r="1.30" fill="#6f6fc0" fill-opacity="0.55" stroke="#6f6fc0" stroke-width="0.6"/>
<circle cx="276.2" cy="275.7" r="1.30" fill="#6f6fc0" fill-opacity="0.55" stroke="#6f6fc0" stroke-width="0.6"/>
<circle cx="278.2" cy="277.3" r="1.30" fill="#6f6fc0" fill-opacity="0.55" stroke="#6f6fc0" stroke-width="0.6"/>
<circle cx="280.3" cy="278.7" r="1.30" fill="#6f6fc0" fill-opacity="0.55" stroke="#6f6fc0" stroke-width="0.6"/>
<circle cx="282.7" cy="279.7" r="1.30" fill="#6f6fc0" fill-opacity="0.55" stroke="#6f6fc0" stroke-width="0.6"/>
<circle cx="285.1" cy="280.6" r="1.30" fill="#6f6fc0" fill-opacity="0.55" stroke="#6f6fc0" stroke-width="0.6"/>
<circle cx="287.6" cy="281.1" r="1.30" fill="#6f6fc0" fill-opacity="0.55" stroke="#6f6fc0" stroke-width="0.6"/>
<circle cx="290.2" cy="281.5" r="1.30" fill="#6f6fc0" fill-opacity="0.55" stroke="#6f6fc0" stroke-width="0.6"/>
<circle cx="292.7" cy="281.8" r="1.30" fill="#6f6fc0" fill-opacity="0.55" stroke="#6f6fc0" stroke-width="0.6"/>
<circle cx="295.3" cy="282.1" r="1.30" fill="#6f6fc0" fill-opacity="0.55" stroke="#6f6fc0" stroke-width="0.6"/>
<circle cx="297.9" cy="282.2" r="1.30" fill="#6f6fc0" fill-opacity="0.55" stroke="#6f6fc0" stroke-width="0.6"/>
<circle cx="300.4" cy="282.4" r="1.30" fill="#6f6fc0" fill-opacity="0.55" stroke="#6f6fc0" stroke-width="0.6"/>
<circle cx="303.0" cy="282.5" r="1.30" fill="#6f6fc0" fill-opacity="0.55" stroke="#6f6fc0" stroke-width="0.6"/>
<rect x="297.8" y="270.6" width="2.4" height="2.4" fill="none" stroke="#f2603f" stroke-width="0.6"/>
<rect x="300.4" y="271.2" width="2.4" height="2.4" fill="none" stroke="#f2603f" stroke-width="0.6"/>
<rect x="303.1" y="271.8" width="2.4" height="2.4" fill="none" stroke="#f2603f" stroke-width="0.6"/>
<rect x="305.7" y="272.4" width="2.4" height="2.4" fill="none" stroke="#f2603f" stroke-width="0.6"/>
<rect x="307.7" y="271.0" width="2.4" height="2.4" fill="none" stroke="#f2603f" stroke-width="0.6"/>
<rect x="309.6" y="269.5" width="2.4" height="2.4" fill="none" stroke="#f2603f" stroke-width="0.6"/>
<rect x="311.8" y="271.1" width="2.4" height="2.4" fill="none" stroke="#f2603f" stroke-width="0.6"/>
<rect x="314.1" y="272.6" width="2.4" height="2.4" fill="none" stroke="#f2603f" stroke-width="0.6"/>
<rect x="316.4" y="273.9" width="2.4" height="2.4" fill="none" stroke="#f2603f" stroke-width="0.6"/>
<rect x="318.3" y="275.8" width="2.4" height="2.4" fill="none" stroke="#f2603f" stroke-width="0.6"/>
<rect x="320.3" y="277.6" width="2.4" height="2.4" fill="none" stroke="#f2603f" stroke-width="0.6"/>
<rect x="322.3" y="279.4" width="2.4" height="2.4" fill="none" stroke="#f2603f" stroke-width="0.6"/>
<rect x="324.4" y="281.1" width="2.4" height="2.4" fill="none" stroke="#f2603f" stroke-width="0.6"/>
<rect x="326.5" y="282.8" width="2.4" height="2.4" fill="none" stroke="#f2603f" stroke-width="0.6"/>
<rect x="329.0" y="283.7" width="2.4" height="2.4" fill="none" stroke="#f2603f" stroke-width="0.6"/>
<rect x="331.6" y="284.2" width="2.4" height="2.4" fill="none" stroke="#f2603f" stroke-width="0.6"/>
<rect x="334.3" y="284.3" width="2.4" height="2.4" fill="none" stroke="#f2603f" stroke-width="0.6"/>
<rect x="337.0" y="284.0" width="2.4" height="2.4" fill="none" stroke="#f2603f" stroke-width="0.6"/>
<rect x="339.7" y="283.6" width="2.4" height="2.4" fill="none" stroke="#f2603f" stroke-width="0.6"/>
<rect x="342.3" y="283.5" width="2.4" height="2.4" fill="none" stroke="#f2603f" stroke-width="0.6"/>
<rect x="344.9" y="284.0" width="2.4" height="2.4" fill="none" stroke="#f2603f" stroke-width="0.6"/>
<rect x="347.6" y="284.3" width="2.4" height="2.4" fill="none" stroke="#f2603f" stroke-width="0.6"/>
<rect x="350.1" y="285.4" width="2.4" height="2.4" fill="none" stroke="#f2603f" stroke-width="0.6"/>
<rect x="352.5" y="286.6" width="2.4" height="2.4" fill="none" stroke="#f2603f" stroke-width="0.6"/>
<rect x="355.0" y="287.5" width="2.4" height="2.4" fill="none" stroke="#f2603f" stroke-width="0.6"/>
<rect x="357.5" y="288.4" width="2.4" height="2.4" fill="none" stroke="#f2603f" stroke-width="0.6"/>
<rect x="360.1" y="289.2" width="2.4" height="2.4" fill="none" stroke="#f2603f" stroke-width="0.6"/>
<rect x="362.6" y="290.1" width="2.4" height="2.4" fill="none" stroke="#f2603f" stroke-width="0.6"/>
<rect x="365.2" y="290.9" width="2.4" height="2.4" fill="none" stroke="#f2603f" stroke-width="0.6"/>
<rect x="367.8" y="291.8" width="2.4" height="2.4" fill="none" stroke="#f2603f" stroke-width="0.6"/>
<rect x="370.3" y="292.6" width="2.4" height="2.4" fill="none" stroke="#f2603f" stroke-width="0.6"/>
<rect x="372.9" y="293.5" width="2.4" height="2.4" fill="none" stroke="#f2603f" stroke-width="0.6"/>
<rect x="375.4" y="294.3" width="2.4" height="2.4" fill="none" stroke="#f2603f" stroke-width="0.6"/>
<rect x="378.0" y="295.1" width="2.4" height="2.4" fill="none" stroke="#f2603f" stroke-width="0.6"/>
<rect x="380.6" y="295.8" width="2.4" height="2.4" fill="none" stroke="#f2603f" stroke-width="0.6"/>
<rect x="383.2" y="296.5" width="2.4" height="2.4" fill="none" stroke="#f2603f" stroke-width="0.6"/>
<rect x="385.8" y="297.2" width="2.4" height="2.4" fill="none" stroke="#f2603f" stroke-width="0.6"/>
<rect x="315.1" y="252.5" width="2.4" height="2.4" fill="#43a96c" fill-opacity="0.6" stroke="#43a96c" stroke-width="0.4"/>
<rect x="319.5" y="252.2" width="2.4" height="2.4" fill="#43a96c" fill-opacity="0.6" stroke="#43a96c" stroke-width="0.4"/>
<rect x="322.8" y="251.5" width="2.4" height="2.4" fill="#43a96c" fill-opacity="0.6" stroke="#43a96c" stroke-width="0.4"/>
<rect x="325.8" y="252.2" width="2.4" height="2.4" fill="#43a96c" fill-opacity="0.6" stroke="#43a96c" stroke-width="0.4"/>
<rect x="329.8" y="253.4" width="2.4" height="2.4" fill="#43a96c" fill-opacity="0.6" stroke="#43a96c" stroke-width="0.4"/>
<rect x="333.5" y="253.4" width="2.4" height="2.4" fill="#43a96c" fill-opacity="0.6" stroke="#43a96c" stroke-width="0.4"/>
<rect x="337.3" y="253.1" width="2.4" height="2.4" fill="#43a96c" fill-opacity="0.6" stroke="#43a96c" stroke-width="0.4"/>
<rect x="341.2" y="253.4" width="2.4" height="2.4" fill="#43a96c" fill-opacity="0.6" stroke="#43a96c" stroke-width="0.4"/>
<rect x="344.8" y="253.8" width="2.4" height="2.4" fill="#43a96c" fill-opacity="0.6" stroke="#43a96c" stroke-width="0.4"/>
<rect x="348.2" y="253.4" width="2.4" height="2.4" fill="#43a96c" fill-opacity="0.6" stroke="#43a96c" stroke-width="0.4"/>
<rect x="349.8" y="254.3" width="2.4" height="2.4" fill="#43a96c" fill-opacity="0.6" stroke="#43a96c" stroke-width="0.4"/>
<rect x="353.3" y="256.8" width="2.4" height="2.4" fill="#43a96c" fill-opacity="0.6" stroke="#43a96c" stroke-width="0.4"/>
<rect x="356.8" y="260.8" width="2.4" height="2.4" fill="#43a96c" fill-opacity="0.6" stroke="#43a96c" stroke-width="0.4"/>
<rect x="359.8" y="264.8" width="2.4" height="2.4" fill="#43a96c" fill-opacity="0.6" stroke="#43a96c" stroke-width="0.4"/>
<rect x="362.8" y="268.8" width="2.4" height="2.4" fill="#43a96c" fill-opacity="0.6" stroke="#43a96c" stroke-width="0.4"/>
<rect x="365.8" y="268.8" width="2.4" height="2.4" fill="#43a96c" fill-opacity="0.6" stroke="#43a96c" stroke-width="0.4"/>
<rect x="368.8" y="267.8" width="2.4" height="2.4" fill="#43a96c" fill-opacity="0.6" stroke="#43a96c" stroke-width="0.4"/>
<rect x="370.8" y="271.8" width="2.4" height="2.4" fill="#43a96c" fill-opacity="0.6" stroke="#43a96c" stroke-width="0.4"/>
<rect x="373.8" y="274.4" width="2.4" height="2.4" fill="#43a96c" fill-opacity="0.6" stroke="#43a96c" stroke-width="0.4"/>
<rect x="376.8" y="276.8" width="2.4" height="2.4" fill="#43a96c" fill-opacity="0.6" stroke="#43a96c" stroke-width="0.4"/>
<rect x="379.8" y="278.8" width="2.4" height="2.4" fill="#43a96c" fill-opacity="0.6" stroke="#43a96c" stroke-width="0.4"/>
<rect x="382.8" y="280.4" width="2.4" height="2.4" fill="#43a96c" fill-opacity="0.6" stroke="#43a96c" stroke-width="0.4"/>
<rect x="385.8" y="281.8" width="2.4" height="2.4" fill="#43a96c" fill-opacity="0.6" stroke="#43a96c" stroke-width="0.4"/>
<rect x="388.8" y="279.8" width="2.4" height="2.4" fill="#43a96c" fill-opacity="0.6" stroke="#43a96c" stroke-width="0.4"/>
<rect x="250.6" y="284.8" width="2.4" height="2.4" fill="#9a5bab" fill-opacity="0.6" stroke="#9a5bab" stroke-width="0.4"/>
<rect x="253.0" y="284.5" width="2.4" height="2.4" fill="#9a5bab" fill-opacity="0.6" stroke="#9a5bab" stroke-width="0.4"/>
<rect x="255.4" y="284.3" width="2.4" height="2.4" fill="#9a5bab" fill-opacity="0.6" stroke="#9a5bab" stroke-width="0.4"/>
<rect x="257.7" y="284.5" width="2.4" height="2.4" fill="#9a5bab" fill-opacity="0.6" stroke="#9a5bab" stroke-width="0.4"/>
<rect x="260.1" y="284.8" width="2.4" height="2.4" fill="#9a5bab" fill-opacity="0.6" stroke="#9a5bab" stroke-width="0.4"/>
<rect x="262.5" y="284.8" width="2.4" height="2.4" fill="#9a5bab" fill-opacity="0.6" stroke="#9a5bab" stroke-width="0.4"/>
<rect x="264.9" y="284.8" width="2.4" height="2.4" fill="#9a5bab" fill-opacity="0.6" stroke="#9a5bab" stroke-width="0.4"/>
<rect x="267.3" y="284.9" width="2.4" height="2.4" fill="#9a5bab" fill-opacity="0.6" stroke="#9a5bab" stroke-width="0.4"/>
<rect x="269.7" y="285.0" width="2.4" height="2.4" fill="#9a5bab" fill-opacity="0.6" stroke="#9a5bab" stroke-width="0.4"/>
<rect x="272.1" y="285.1" width="2.4" height="2.4" fill="#9a5bab" fill-opacity="0.6" stroke="#9a5bab" stroke-width="0.4"/>
<rect x="274.5" y="285.1" width="2.4" height="2.4" fill="#9a5bab" fill-opacity="0.6" stroke="#9a5bab" stroke-width="0.4"/>
<rect x="276.9" y="285.1" width="2.4" height="2.4" fill="#9a5bab" fill-opacity="0.6" stroke="#9a5bab" stroke-width="0.4"/>
<rect x="279.2" y="285.4" width="2.4" height="2.4" fill="#9a5bab" fill-opacity="0.6" stroke="#9a5bab" stroke-width="0.4"/>
<rect x="281.6" y="285.7" width="2.4" height="2.4" fill="#9a5bab" fill-opacity="0.6" stroke="#9a5bab" stroke-width="0.4"/>
<rect x="284.0" y="286.1" width="2.4" height="2.4" fill="#9a5bab" fill-opacity="0.6" stroke="#9a5bab" stroke-width="0.4"/>
<rect x="286.3" y="286.5" width="2.4" height="2.4" fill="#9a5bab" fill-opacity="0.6" stroke="#9a5bab" stroke-width="0.4"/>
<rect x="288.7" y="286.9" width="2.4" height="2.4" fill="#9a5bab" fill-opacity="0.6" stroke="#9a5bab" stroke-width="0.4"/>
<rect x="291.0" y="287.4" width="2.4" height="2.4" fill="#9a5bab" fill-opacity="0.6" stroke="#9a5bab" stroke-width="0.4"/>
<rect x="293.3" y="288.2" width="2.4" height="2.4" fill="#9a5bab" fill-opacity="0.6" stroke="#9a5bab" stroke-width="0.4"/>
<rect x="295.6" y="288.7" width="2.4" height="2.4" fill="#9a5bab" fill-opacity="0.6" stroke="#9a5bab" stroke-width="0.4"/>
<rect x="298.0" y="289.1" width="2.4" height="2.4" fill="#9a5bab" fill-opacity="0.6" stroke="#9a5bab" stroke-width="0.4"/>
<rect x="300.3" y="289.5" width="2.4" height="2.4" fill="#9a5bab" fill-opacity="0.6" stroke="#9a5bab" stroke-width="0.4"/>
<rect x="302.7" y="289.8" width="2.4" height="2.4" fill="#9a5bab" fill-opacity="0.6" stroke="#9a5bab" stroke-width="0.4"/>
<rect x="305.1" y="290.0" width="2.4" height="2.4" fill="#9a5bab" fill-opacity="0.6" stroke="#9a5bab" stroke-width="0.4"/>
<rect x="307.5" y="290.2" width="2.4" height="2.4" fill="#9a5bab" fill-opacity="0.6" stroke="#9a5bab" stroke-width="0.4"/>
<rect x="309.9" y="290.3" width="2.4" height="2.4" fill="#9a5bab" fill-opacity="0.6" stroke="#9a5bab" stroke-width="0.4"/>
<rect x="312.3" y="290.3" width="2.4" height="2.4" fill="#9a5bab" fill-opacity="0.6" stroke="#9a5bab" stroke-width="0.4"/>
<rect x="314.6" y="290.6" width="2.4" height="2.4" fill="#9a5bab" fill-opacity="0.6" stroke="#9a5bab" stroke-width="0.4"/>
<rect x="317.0" y="291.0" width="2.4" height="2.4" fill="#9a5bab" fill-opacity="0.6" stroke="#9a5bab" stroke-width="0.4"/>
<rect x="188.8" y="122.0" width="2.7" height="2.7" fill="none" stroke="#2fa7aa" stroke-width="0.6"/><circle cx="190.2" cy="123.4" r="0.73" fill="none" stroke="#2fa7aa" stroke-width="0.5"/>
<rect x="193.6" y="126.6" width="2.7" height="2.7" fill="none" stroke="#2fa7aa" stroke-width="0.6"/><circle cx="195" cy="128" r="0.73" fill="none" stroke="#2fa7aa" stroke-width="0.5"/>
<rect x="198.2" y="130.4" width="2.7" height="2.7" fill="none" stroke="#2fa7aa" stroke-width="0.6"/><circle cx="199.6" cy="131.8" r="0.73" fill="none" stroke="#2fa7aa" stroke-width="0.5"/>
<rect x="202.6" y="133.5" width="2.7" height="2.7" fill="none" stroke="#2fa7aa" stroke-width="0.6"/><circle cx="204" cy="134.9" r="0.73" fill="none" stroke="#2fa7aa" stroke-width="0.5"/>
<rect x="207.6" y="137.3" width="2.7" height="2.7" fill="none" stroke="#2fa7aa" stroke-width="0.6"/><circle cx="209" cy="138.7" r="0.73" fill="none" stroke="#2fa7aa" stroke-width="0.5"/>
<rect x="212.2" y="141.3" width="2.7" height="2.7" fill="none" stroke="#2fa7aa" stroke-width="0.6"/><circle cx="213.6" cy="142.7" r="0.73" fill="none" stroke="#2fa7aa" stroke-width="0.5"/>
<rect x="216.0" y="144.4" width="2.7" height="2.7" fill="none" stroke="#2fa7aa" stroke-width="0.6"/><circle cx="217.4" cy="145.8" r="0.73" fill="none" stroke="#2fa7aa" stroke-width="0.5"/>
<rect x="220.4" y="148.2" width="2.7" height="2.7" fill="none" stroke="#2fa7aa" stroke-width="0.6"/><circle cx="221.8" cy="149.6" r="0.73" fill="none" stroke="#2fa7aa" stroke-width="0.5"/>
<rect x="224.4" y="154.1" width="2.7" height="2.7" fill="none" stroke="#2fa7aa" stroke-width="0.6"/><circle cx="225.8" cy="155.5" r="0.73" fill="none" stroke="#2fa7aa" stroke-width="0.5"/>
<rect x="229.0" y="158.9" width="2.7" height="2.7" fill="none" stroke="#2fa7aa" stroke-width="0.6"/><circle cx="230.4" cy="160.3" r="0.73" fill="none" stroke="#2fa7aa" stroke-width="0.5"/>
<rect x="233.3" y="162.6" width="2.7" height="2.7" fill="none" stroke="#2fa7aa" stroke-width="0.6"/><circle cx="234.7" cy="164" r="0.73" fill="none" stroke="#2fa7aa" stroke-width="0.5"/>
<rect x="237.1" y="166.0" width="2.7" height="2.7" fill="none" stroke="#2fa7aa" stroke-width="0.6"/><circle cx="238.5" cy="167.4" r="0.73" fill="none" stroke="#2fa7aa" stroke-width="0.5"/>
<rect x="241.0" y="169.1" width="2.7" height="2.7" fill="none" stroke="#2fa7aa" stroke-width="0.6"/><circle cx="242.4" cy="170.5" r="0.73" fill="none" stroke="#2fa7aa" stroke-width="0.5"/>
<rect x="245.3" y="172.9" width="2.7" height="2.7" fill="none" stroke="#2fa7aa" stroke-width="0.6"/><circle cx="246.7" cy="174.3" r="0.73" fill="none" stroke="#2fa7aa" stroke-width="0.5"/>
<rect x="249.1" y="178.0" width="2.7" height="2.7" fill="none" stroke="#2fa7aa" stroke-width="0.6"/><circle cx="250.5" cy="179.4" r="0.73" fill="none" stroke="#2fa7aa" stroke-width="0.5"/>
<rect x="252.9" y="183.3" width="2.7" height="2.7" fill="none" stroke="#2fa7aa" stroke-width="0.6"/><circle cx="254.3" cy="184.7" r="0.73" fill="none" stroke="#2fa7aa" stroke-width="0.5"/>
<rect x="256.6" y="188.9" width="2.7" height="2.7" fill="none" stroke="#2fa7aa" stroke-width="0.6"/><circle cx="258" cy="190.3" r="0.73" fill="none" stroke="#2fa7aa" stroke-width="0.5"/>
<rect x="260.1" y="194.1" width="2.7" height="2.7" fill="none" stroke="#2fa7aa" stroke-width="0.6"/><circle cx="261.5" cy="195.5" r="0.73" fill="none" stroke="#2fa7aa" stroke-width="0.5"/>
<rect x="262.6" y="200.1" width="2.7" height="2.7" fill="none" stroke="#2fa7aa" stroke-width="0.6"/><circle cx="264" cy="201.5" r="0.73" fill="none" stroke="#2fa7aa" stroke-width="0.5"/>
<rect x="265.6" y="205.6" width="2.7" height="2.7" fill="none" stroke="#2fa7aa" stroke-width="0.6"/><circle cx="267" cy="207" r="0.73" fill="none" stroke="#2fa7aa" stroke-width="0.5"/>
<rect x="268.6" y="210.1" width="2.7" height="2.7" fill="none" stroke="#2fa7aa" stroke-width="0.6"/><circle cx="270" cy="211.5" r="0.73" fill="none" stroke="#2fa7aa" stroke-width="0.5"/>
<rect x="272.2" y="214.1" width="2.7" height="2.7" fill="none" stroke="#2fa7aa" stroke-width="0.6"/><circle cx="273.6" cy="215.5" r="0.73" fill="none" stroke="#2fa7aa" stroke-width="0.5"/>
<rect x="275.9" y="217.1" width="2.7" height="2.7" fill="none" stroke="#2fa7aa" stroke-width="0.6"/><circle cx="277.3" cy="218.5" r="0.73" fill="none" stroke="#2fa7aa" stroke-width="0.5"/>
<rect x="280.1" y="220.4" width="2.7" height="2.7" fill="none" stroke="#2fa7aa" stroke-width="0.6"/><circle cx="281.5" cy="221.8" r="0.73" fill="none" stroke="#2fa7aa" stroke-width="0.5"/>
<rect x="284.1" y="224.1" width="2.7" height="2.7" fill="none" stroke="#2fa7aa" stroke-width="0.6"/><circle cx="285.5" cy="225.5" r="0.73" fill="none" stroke="#2fa7aa" stroke-width="0.5"/>
<rect x="288.1" y="227.3" width="2.7" height="2.7" fill="none" stroke="#2fa7aa" stroke-width="0.6"/><circle cx="289.5" cy="228.7" r="0.73" fill="none" stroke="#2fa7aa" stroke-width="0.5"/>
<rect x="292.2" y="230.4" width="2.7" height="2.7" fill="none" stroke="#2fa7aa" stroke-width="0.6"/><circle cx="293.6" cy="231.8" r="0.73" fill="none" stroke="#2fa7aa" stroke-width="0.5"/>
<rect x="296.2" y="232.2" width="2.7" height="2.7" fill="none" stroke="#2fa7aa" stroke-width="0.6"/><circle cx="297.6" cy="233.6" r="0.73" fill="none" stroke="#2fa7aa" stroke-width="0.5"/>
<rect x="300.4" y="233.6" width="2.7" height="2.7" fill="none" stroke="#2fa7aa" stroke-width="0.6"/><circle cx="301.8" cy="235" r="0.73" fill="none" stroke="#2fa7aa" stroke-width="0.5"/>
<rect x="304.1" y="238.6" width="2.7" height="2.7" fill="none" stroke="#2fa7aa" stroke-width="0.6"/><circle cx="305.5" cy="240" r="0.73" fill="none" stroke="#2fa7aa" stroke-width="0.5"/>
<rect x="307.6" y="241.3" width="2.7" height="2.7" fill="none" stroke="#2fa7aa" stroke-width="0.6"/><circle cx="309" cy="242.7" r="0.73" fill="none" stroke="#2fa7aa" stroke-width="0.5"/>
<circle cx="95" cy="167.6" r="1.26" fill="#e94a3c"/>
<circle cx="97.5" cy="168" r="1.26" fill="#e94a3c"/>
<circle cx="100" cy="168.5" r="1.26" fill="#e94a3c"/>
<circle cx="102.5" cy="169.5" r="1.26" fill="#e94a3c"/>
<circle cx="104" cy="170" r="1.26" fill="#e94a3c"/>
<circle cx="106" cy="173" r="1.26" fill="#e94a3c"/>
<circle cx="108" cy="176" r="1.26" fill="#e94a3c"/>
<circle cx="111" cy="180" r="1.26" fill="#e94a3c"/>
<circle cx="114" cy="183" r="1.26" fill="#e94a3c"/>
<circle cx="117" cy="185" r="1.26" fill="#e94a3c"/>
<circle cx="120" cy="186" r="1.26" fill="#e94a3c"/>
<circle cx="123" cy="188" r="1.26" fill="#e94a3c"/>
<circle cx="126" cy="188" r="1.26" fill="#e94a3c"/>
<circle cx="129" cy="189" r="1.26" fill="#e94a3c"/>
<circle cx="133" cy="189" r="1.26" fill="#e94a3c"/>
<circle cx="137" cy="191" r="1.26" fill="#e94a3c"/>
<circle cx="141" cy="194" r="1.26" fill="#e94a3c"/>
<circle cx="145" cy="197" r="1.26" fill="#e94a3c"/>
<circle cx="149" cy="199" r="1.26" fill="#e94a3c"/>
<circle cx="152.7" cy="200" r="1.26" fill="#e94a3c"/>
<circle cx="156.4" cy="199" r="1.26" fill="#e94a3c"/>
<circle cx="160" cy="198" r="1.26" fill="#e94a3c"/>
<circle cx="164" cy="197.3" r="1.26" fill="#e94a3c"/>
<circle cx="168" cy="197.8" r="1.26" fill="#e94a3c"/>
<circle cx="171.8" cy="199" r="1.26" fill="#e94a3c"/>
<circle cx="176.4" cy="201.5" r="1.26" fill="#e94a3c"/>
<circle cx="180" cy="203.6" r="1.26" fill="#e94a3c"/>
<circle cx="183.6" cy="207" r="1.26" fill="#e94a3c"/>
<circle cx="185.5" cy="211" r="1.26" fill="#e94a3c"/>
<circle cx="187.3" cy="214.5" r="1.26" fill="#e94a3c"/>
<circle cx="190.4" cy="218" r="1.26" fill="#e94a3c"/>
<circle cx="190.4" cy="222.7" r="1.26" fill="#e94a3c"/>
<circle cx="200" cy="237" r="1.26" fill="#e94a3c"/>
<circle cx="205.5" cy="240" r="1.26" fill="#e94a3c"/>
<circle cx="211.8" cy="241.8" r="1.26" fill="#e94a3c"/>
<circle cx="217.3" cy="243.6" r="1.26" fill="#e94a3c"/>
<circle cx="223.6" cy="245" r="1.26" fill="#e94a3c"/>
<circle cx="229" cy="246.4" r="1.26" fill="#e94a3c"/>
<circle cx="235.5" cy="248" r="1.26" fill="#e94a3c"/>
<circle cx="240.5" cy="249" r="1.26" fill="#e94a3c"/>
<circle cx="245" cy="249" r="1.26" fill="#e94a3c"/>
<circle cx="204.5" cy="233.6" r="1.10" fill="#7358b9"/>
<circle cx="209" cy="234.5" r="1.10" fill="#7358b9"/>
<circle cx="213.6" cy="235.5" r="1.10" fill="#7358b9"/>
<circle cx="218.7" cy="236.7" r="1.10" fill="#7358b9"/>
<circle cx="222.7" cy="237.8" r="1.10" fill="#7358b9"/>
<circle cx="227.3" cy="239.6" r="1.10" fill="#7358b9"/>
<circle cx="231.5" cy="241.8" r="1.10" fill="#7358b9"/>
<circle cx="235.5" cy="244.5" r="1.10" fill="#7358b9"/>
<circle cx="239" cy="247" r="1.10" fill="#7358b9"/>
<circle cx="242.7" cy="250" r="1.10" fill="#7358b9"/>
<circle cx="246.4" cy="251.8" r="1.10" fill="#7358b9"/>
<circle cx="249.5" cy="255" r="1.10" fill="#7358b9"/>
<circle cx="253.8" cy="258" r="1.10" fill="#7358b9"/>
<circle cx="258" cy="261" r="1.10" fill="#7358b9"/>
<circle cx="262.5" cy="263.6" r="1.10" fill="#7358b9"/>
<circle cx="267" cy="266" r="1.10" fill="#7358b9"/>
<circle cx="271" cy="269" r="1.10" fill="#7358b9"/>
<circle cx="275.6" cy="272" r="1.10" fill="#7358b9"/>
<circle cx="279" cy="275.6" r="1.10" fill="#7358b9"/>
<circle cx="282" cy="278" r="1.10" fill="#7358b9"/>
<circle cx="285.5" cy="280" r="1.10" fill="#7358b9"/>
<circle cx="290" cy="281" r="1.10" fill="#7358b9"/>
<circle cx="294" cy="281.5" r="1.10" fill="#7358b9"/>
<circle cx="298.5" cy="282" r="1.10" fill="#7358b9"/>
<circle cx="303" cy="282" r="1.10" fill="#7358b9"/>
<path d="M209 279.8L210.6 282.5L207.4 282.5Z" fill="#d23d62"/>
<path d="M214.5 280.7L216.1 283.4L212.9 283.4Z" fill="#d23d62"/>
<path d="M220 282.4L221.6 285.1L218.4 285.1Z" fill="#d23d62"/>
<path d="M226 284.4L227.6 287.1L224.4 287.1Z" fill="#d23d62"/>
<path d="M232 286.4L233.6 289.1L230.4 289.1Z" fill="#d23d62"/>
<path d="M238 287.9L239.6 290.6L236.4 290.6Z" fill="#d23d62"/>
<path d="M244 288.9L245.6 291.6L242.4 291.6Z" fill="#d23d62"/>
<path d="M249 289.8L250.6 292.5L247.4 292.5Z" fill="#d23d62"/>
<path d="M253.6 291.6L255.2 294.3L252.0 294.3Z" fill="#d23d62"/>
<path d="M256.4 293.0L258.0 295.7L254.8 295.7Z" fill="#d23d62"/>
<path d="M260 294.4L261.6 297.1L258.4 297.1Z" fill="#d23d62"/>
<path d="M264.5 296.1L266.1 298.8L262.9 298.8Z" fill="#d23d62"/>
<path d="M269 297.0L270.6 299.7L267.4 299.7Z" fill="#d23d62"/>
<path d="M274.5 297.9L276.1 300.6L272.9 300.6Z" fill="#d23d62"/>
<path d="M280 297.9L281.6 300.6L278.4 300.6Z" fill="#d23d62"/>
<path d="M285.5 297.9L287.1 300.6L283.9 300.6Z" fill="#d23d62"/>
<path d="M291 298.4L292.6 301.1L289.4 301.1Z" fill="#d23d62"/>
<path d="M296.4 298.9L298.0 301.6L294.8 301.6Z" fill="#d23d62"/>
<path d="M303 300.9L304.6 303.6L301.4 303.6Z" fill="#d23d62"/>
<path d="M311.6 300.9L313.2 303.6L310.0 303.6Z" fill="#d23d62"/>
<path d="M318 300.9L319.6 303.6L316.4 303.6Z" fill="#d23d62"/>
<path d="M324.7 301.4L326.3 304.1L323.1 304.1Z" fill="#d23d62"/>
<path d="M331 301.4L332.6 304.1L329.4 304.1Z" fill="#d23d62"/>
<path d="M337 301.4L338.6 304.1L335.4 304.1Z" fill="#d23d62"/>
<path d="M342 298.4L343.6 301.1L340.4 301.1Z" fill="#d23d62"/>
<path d="M347 299.4L348.6 302.1L345.4 302.1Z" fill="#d23d62"/>
<circle cx="161.0" cy="205.5" r="0.62" fill="#5a5a5a"/>
<circle cx="162.6" cy="203.8" r="0.62" fill="#5a5a5a"/>
<circle cx="164.2" cy="202.1" r="0.62" fill="#5a5a5a"/>
<circle cx="166.0" cy="200.6" r="0.62" fill="#5a5a5a"/>
<circle cx="167.8" cy="199.2" r="0.62" fill="#5a5a5a"/>
<circle cx="170.1" cy="199.0" r="0.62" fill="#5a5a5a"/>
<circle cx="172.4" cy="199.0" r="0.62" fill="#5a5a5a"/>
<circle cx="174.6" cy="199.8" r="0.62" fill="#5a5a5a"/>
<circle cx="176.7" cy="200.7" r="0.62" fill="#5a5a5a"/>
<circle cx="178.6" cy="202.0" r="0.62" fill="#5a5a5a"/>
<circle cx="180.5" cy="203.5" r="0.62" fill="#5a5a5a"/>
<circle cx="182.0" cy="205.1" r="0.62" fill="#5a5a5a"/>
<circle cx="182.9" cy="207.3" r="0.62" fill="#5a5a5a"/>
<circle cx="183.8" cy="209.4" r="0.62" fill="#5a5a5a"/>
<circle cx="184.7" cy="211.6" r="0.62" fill="#5a5a5a"/>
<circle cx="185.5" cy="213.7" r="0.62" fill="#5a5a5a"/>
<circle cx="186.3" cy="216.0" r="0.62" fill="#5a5a5a"/>
<circle cx="187.0" cy="218.2" r="0.62" fill="#5a5a5a"/>
<circle cx="187.7" cy="220.4" r="0.62" fill="#5a5a5a"/>
<circle cx="188.4" cy="222.6" r="0.62" fill="#5a5a5a"/>
<circle cx="189.2" cy="224.8" r="0.62" fill="#5a5a5a"/>
<circle cx="190.7" cy="226.6" r="0.62" fill="#5a5a5a"/>
<circle cx="192.2" cy="228.4" r="0.62" fill="#5a5a5a"/>
<circle cx="193.8" cy="230.1" r="0.62" fill="#5a5a5a"/>
<circle cx="195.4" cy="231.7" r="0.62" fill="#5a5a5a"/>
<circle cx="196.9" cy="233.5" r="0.62" fill="#5a5a5a"/>
<circle cx="198.3" cy="235.4" r="0.62" fill="#5a5a5a"/>
<circle cx="199.6" cy="237.4" r="0.62" fill="#5a5a5a"/>
<circle cx="200.7" cy="239.4" r="0.62" fill="#5a5a5a"/>
<circle cx="201.7" cy="241.5" r="0.62" fill="#5a5a5a"/>
<circle cx="202.7" cy="243.6" r="0.62" fill="#5a5a5a"/>
<circle cx="123" cy="142" r="1.35" fill="#e9603a"/>
<circle cx="127" cy="143" r="1.35" fill="#e9603a"/>
<circle cx="130" cy="145.6" r="1.35" fill="#e9603a"/>
<circle cx="134" cy="150" r="1.35" fill="#e9603a"/>
<circle cx="137" cy="155" r="1.35" fill="#e9603a"/>
<circle cx="141" cy="160" r="1.35" fill="#e9603a"/>
<circle cx="144" cy="165" r="1.35" fill="#e9603a"/>
<circle cx="148" cy="169.5" r="1.35" fill="#e9603a"/>
<circle cx="152" cy="172.5" r="1.35" fill="#e9603a"/>
<circle cx="155" cy="174.5" r="1.35" fill="#e9603a"/>
<circle cx="159" cy="176.5" r="1.35" fill="#e9603a"/>
<circle cx="162" cy="180" r="1.35" fill="#e9603a"/>
<circle cx="165.5" cy="185" r="1.35" fill="#e9603a"/>
<circle cx="169" cy="189" r="1.35" fill="#e9603a"/>
<circle cx="172.7" cy="192.4" r="1.35" fill="#e9603a"/>
<circle cx="177" cy="195" r="1.35" fill="#e9603a"/>
<circle cx="180" cy="200" r="1.35" fill="#e9603a"/>
<circle cx="182.6" cy="205" r="1.35" fill="#e9603a"/>
<circle cx="185" cy="210.5" r="1.35" fill="#e9603a"/>
<circle cx="187.3" cy="214.5" r="1.35" fill="#e9603a"/>
<circle cx="190.4" cy="218" r="1.35" fill="#e9603a"/>
<circle cx="190.4" cy="222.7" r="1.35" fill="#e9603a"/>
<circle cx="73" cy="119.5" r="0.99" fill="#2c7bd6"/>
<circle cx="75.5" cy="119" r="0.99" fill="#2c7bd6"/>
<circle cx="78" cy="119.5" r="0.99" fill="#2c7bd6"/>
<circle cx="80" cy="121" r="0.99" fill="#2c7bd6"/>
<circle cx="82" cy="125" r="0.99" fill="#2c7bd6"/>
<circle cx="85" cy="130" r="0.99" fill="#2c7bd6"/>
<circle cx="89" cy="138" r="0.99" fill="#2c7bd6"/>
<circle cx="92" cy="143" r="0.99" fill="#2c7bd6"/>
<circle cx="97" cy="149" r="0.99" fill="#2c7bd6"/>
<circle cx="100" cy="153" r="0.99" fill="#2c7bd6"/>
<circle cx="103" cy="157" r="0.99" fill="#2c7bd6"/>
<circle cx="107" cy="162" r="0.99" fill="#2c7bd6"/>
<circle cx="111" cy="168" r="0.99" fill="#2c7bd6"/>
<circle cx="115" cy="175" r="0.99" fill="#2c7bd6"/>
<circle cx="119" cy="181.6" r="0.99" fill="#2c7bd6"/>
<circle cx="124" cy="188" r="0.99" fill="#2c7bd6"/>
<circle cx="128" cy="192" r="0.99" fill="#2c7bd6"/>
<circle cx="132" cy="197.6" r="0.99" fill="#2c7bd6"/>
<circle cx="137" cy="204" r="0.99" fill="#2c7bd6"/>
<circle cx="141" cy="209" r="0.99" fill="#2c7bd6"/>
<circle cx="145" cy="216" r="0.99" fill="#2c7bd6"/>
<circle cx="150" cy="221" r="0.99" fill="#2c7bd6"/>
<circle cx="154" cy="225" r="0.99" fill="#2c7bd6"/>
<circle cx="158.4" cy="230" r="0.99" fill="#2c7bd6"/>
<circle cx="162.6" cy="234" r="0.99" fill="#2c7bd6"/>
<circle cx="167" cy="238.4" r="0.99" fill="#2c7bd6"/>
<circle cx="170.4" cy="241.7" r="0.99" fill="#2c7bd6"/>
<circle cx="113" cy="211.6" r="1.30" fill="none" stroke="#f3a463" stroke-width="0.6"/>
<circle cx="115.5" cy="211.6" r="1.30" fill="none" stroke="#f3a463" stroke-width="0.6"/>
<circle cx="117" cy="214" r="1.30" fill="none" stroke="#f3a463" stroke-width="0.6"/>
<circle cx="118.6" cy="217" r="1.30" fill="none" stroke="#f3a463" stroke-width="0.6"/>
<circle cx="120" cy="220" r="1.30" fill="none" stroke="#f3a463" stroke-width="0.6"/>
<circle cx="122" cy="223.6" r="1.30" fill="none" stroke="#f3a463" stroke-width="0.6"/>
<circle cx="124.6" cy="227" r="1.30" fill="none" stroke="#f3a463" stroke-width="0.6"/>
<circle cx="126.5" cy="231" r="1.30" fill="none" stroke="#f3a463" stroke-width="0.6"/>
<circle cx="129.5" cy="236" r="1.30" fill="none" stroke="#f3a463" stroke-width="0.6"/>
<circle cx="133" cy="239.4" r="1.30" fill="none" stroke="#f3a463" stroke-width="0.6"/>
<circle cx="137.4" cy="241.3" r="1.30" fill="none" stroke="#f3a463" stroke-width="0.6"/>
<circle cx="142" cy="242.5" r="1.30" fill="none" stroke="#f3a463" stroke-width="0.6"/>
<circle cx="147.3" cy="243.6" r="1.30" fill="none" stroke="#f3a463" stroke-width="0.6"/>
<circle cx="152" cy="243.6" r="1.30" fill="none" stroke="#f3a463" stroke-width="0.6"/>
<circle cx="156.7" cy="244.3" r="1.30" fill="none" stroke="#f3a463" stroke-width="0.6"/>
<circle cx="162" cy="245.5" r="1.30" fill="none" stroke="#f3a463" stroke-width="0.6"/>
<circle cx="167.4" cy="247" r="1.30" fill="none" stroke="#f3a463" stroke-width="0.6"/>
<circle cx="172" cy="249" r="1.30" fill="none" stroke="#f3a463" stroke-width="0.6"/>
<circle cx="177.3" cy="250.7" r="1.30" fill="none" stroke="#f3a463" stroke-width="0.6"/>
<circle cx="182.3" cy="253" r="1.30" fill="none" stroke="#f3a463" stroke-width="0.6"/>
<circle cx="186.3" cy="256" r="1.30" fill="none" stroke="#f3a463" stroke-width="0.6"/>
<circle cx="190.5" cy="259.7" r="1.30" fill="none" stroke="#f3a463" stroke-width="0.6"/>
<circle cx="194.6" cy="262.5" r="1.30" fill="none" stroke="#f3a463" stroke-width="0.6"/>
<circle cx="198" cy="265.4" r="1.30" fill="none" stroke="#f3a463" stroke-width="0.6"/>
<circle cx="201.7" cy="268.5" r="1.30" fill="none" stroke="#f3a463" stroke-width="0.6"/>
<circle cx="205" cy="270" r="1.30" fill="none" stroke="#f3a463" stroke-width="0.6"/>
<rect x="226.1" y="260.2" width="2.4" height="2.4" fill="none" stroke="#4ea87e" stroke-width="0.6"/>
<rect x="228.7" y="260.5" width="2.4" height="2.4" fill="none" stroke="#4ea87e" stroke-width="0.6"/>
<rect x="231.3" y="260.9" width="2.4" height="2.4" fill="none" stroke="#4ea87e" stroke-width="0.6"/>
<rect x="233.8" y="261.2" width="2.4" height="2.4" fill="none" stroke="#4ea87e" stroke-width="0.6"/>
<rect x="236.4" y="261.6" width="2.4" height="2.4" fill="none" stroke="#4ea87e" stroke-width="0.6"/>
<rect x="239.0" y="261.9" width="2.4" height="2.4" fill="none" stroke="#4ea87e" stroke-width="0.6"/>
<rect x="241.6" y="262.2" width="2.4" height="2.4" fill="none" stroke="#4ea87e" stroke-width="0.6"/>
<rect x="244.2" y="262.5" width="2.4" height="2.4" fill="none" stroke="#4ea87e" stroke-width="0.6"/>
<rect x="246.8" y="262.5" width="2.4" height="2.4" fill="none" stroke="#4ea87e" stroke-width="0.6"/>
<rect x="249.3" y="262.2" width="2.4" height="2.4" fill="none" stroke="#4ea87e" stroke-width="0.6"/>
<rect x="251.6" y="261.0" width="2.4" height="2.4" fill="none" stroke="#4ea87e" stroke-width="0.6"/>
<rect x="254.0" y="260.3" width="2.4" height="2.4" fill="none" stroke="#4ea87e" stroke-width="0.6"/>
<rect x="256.6" y="260.6" width="2.4" height="2.4" fill="none" stroke="#4ea87e" stroke-width="0.6"/>
<rect x="259.2" y="260.8" width="2.4" height="2.4" fill="none" stroke="#4ea87e" stroke-width="0.6"/>
<rect x="261.8" y="261.1" width="2.4" height="2.4" fill="none" stroke="#4ea87e" stroke-width="0.6"/>
<rect x="264.4" y="261.4" width="2.4" height="2.4" fill="none" stroke="#4ea87e" stroke-width="0.6"/>
<rect x="267.0" y="261.8" width="2.4" height="2.4" fill="none" stroke="#4ea87e" stroke-width="0.6"/>
<rect x="269.5" y="262.2" width="2.4" height="2.4" fill="none" stroke="#4ea87e" stroke-width="0.6"/>
<rect x="272.1" y="262.7" width="2.4" height="2.4" fill="none" stroke="#4ea87e" stroke-width="0.6"/>
<rect x="274.5" y="263.8" width="2.4" height="2.4" fill="none" stroke="#4ea87e" stroke-width="0.6"/>
<rect x="276.9" y="264.8" width="2.4" height="2.4" fill="none" stroke="#4ea87e" stroke-width="0.6"/>
<rect x="279.3" y="265.8" width="2.4" height="2.4" fill="none" stroke="#4ea87e" stroke-width="0.6"/>
<rect x="281.7" y="266.7" width="2.4" height="2.4" fill="none" stroke="#4ea87e" stroke-width="0.6"/>
<rect x="284.2" y="267.6" width="2.4" height="2.4" fill="none" stroke="#4ea87e" stroke-width="0.6"/>
<rect x="286.6" y="268.6" width="2.4" height="2.4" fill="none" stroke="#4ea87e" stroke-width="0.6"/>
<rect x="288.8" y="269.8" width="2.4" height="2.4" fill="none" stroke="#4ea87e" stroke-width="0.6"/>
<rect x="291.1" y="271.1" width="2.4" height="2.4" fill="none" stroke="#4ea87e" stroke-width="0.6"/>
<rect x="293.7" y="271.5" width="2.4" height="2.4" fill="none" stroke="#4ea87e" stroke-width="0.6"/>
<rect x="296.1" y="272.3" width="2.4" height="2.4" fill="none" stroke="#4ea87e" stroke-width="0.6"/>
<rect x="298.5" y="273.4" width="2.4" height="2.4" fill="none" stroke="#4ea87e" stroke-width="0.6"/>
<path d="M73.6 123.6C75.3 125.7 80.4 132.1 84.0 136.2C87.6 140.3 90.2 143.4 95.0 148.1C99.8 152.8 106.9 158.8 113.0 164.1C119.1 169.4 126.1 175.2 131.4 180.1C136.7 184.9 140.2 189.3 145.0 193.2C149.8 197.1 154.8 200.0 160.0 203.5C165.2 207.0 170.7 210.2 176.4 214.0C182.2 217.8 188.4 222.2 194.5 226.0C200.6 229.8 206.6 233.2 212.7 236.5C218.8 239.8 224.5 242.4 231.0 245.8C237.5 249.2 245.3 254.1 251.8 257.2C258.3 260.3 264.5 262.6 270.0 264.3C275.5 266.0 280.7 267.0 285.0 267.4C289.3 267.8 292.6 267.5 296.0 266.9C299.4 266.3 301.8 265.5 305.5 263.8C309.2 262.1 313.9 258.8 318.2 256.5C322.4 254.2 327.4 251.6 331.0 250.0C334.6 248.4 335.5 248.1 340.0 247.0C344.5 245.9 352.1 244.5 358.2 243.7C364.3 242.9 370.3 242.1 376.4 242.3C382.4 242.5 388.4 243.2 394.5 244.7C400.6 246.2 406.6 248.6 412.7 251.5C418.8 254.4 427.9 260.3 431.0 262.1L431 294.9C427.9 291.0 418.8 277.6 412.7 271.5C406.6 265.4 400.6 261.3 394.5 258.3C388.4 255.3 382.4 254.1 376.4 253.3C370.3 252.5 364.3 253.1 358.2 253.7C352.1 254.3 344.5 255.8 340.0 257.0C335.5 258.2 334.6 259.4 331.0 261.0C327.4 262.6 322.4 264.6 318.2 266.5C313.9 268.4 309.2 270.9 305.5 272.2C301.8 273.5 299.4 273.8 296.0 274.1C292.6 274.4 289.3 274.6 285.0 274.2C280.7 273.8 275.5 273.1 270.0 271.7C264.5 270.3 258.3 268.4 251.8 265.8C245.3 263.2 237.5 259.2 231.0 256.2C224.5 253.1 218.8 250.7 212.7 247.5C206.6 244.3 200.6 240.8 194.5 237.0C188.4 233.2 182.2 228.8 176.4 225.0C170.7 221.2 165.2 217.9 160.0 214.5C154.8 211.1 149.8 208.0 145.0 204.8C140.2 201.6 136.7 198.8 131.4 195.1C126.1 191.4 119.1 186.7 113.0 182.5C106.9 178.3 99.8 173.2 95.0 169.9C90.2 166.6 87.6 165.1 84.0 162.8C80.4 160.6 75.3 157.5 73.6 156.4Z" fill="#999" fill-opacity="0.42"/>
<path d="M73.6 140.0C75.3 141.6 80.4 146.3 84.0 149.5C87.6 152.7 90.2 155.0 95.0 159.0C99.8 163.0 106.9 168.5 113.0 173.3C119.1 178.1 126.1 183.3 131.4 187.6C136.7 191.9 140.2 195.4 145.0 199.0C149.8 202.6 154.8 205.6 160.0 209.0C165.2 212.4 170.7 215.8 176.4 219.5C182.2 223.2 188.4 227.8 194.5 231.5C200.6 235.2 206.6 238.8 212.7 242.0C218.8 245.2 224.5 247.8 231.0 251.0C237.5 254.2 245.3 258.7 251.8 261.5C258.3 264.3 264.5 266.4 270.0 268.0C275.5 269.6 280.7 270.4 285.0 270.8C289.3 271.2 292.6 271.0 296.0 270.5C299.4 270.0 301.8 269.5 305.5 268.0C309.2 266.5 313.9 263.6 318.2 261.5C322.4 259.4 327.4 257.1 331.0 255.5C334.6 253.9 335.5 253.1 340.0 252.0C344.5 250.9 352.1 249.4 358.2 248.7C364.3 248.0 370.3 247.3 376.4 247.8C382.4 248.3 388.4 249.2 394.5 251.5C400.6 253.8 406.6 257.0 412.7 261.5C418.8 266.0 427.9 275.7 431.0 278.5" fill="none" stroke="#4c8fdc" stroke-width="1.1"/>
<path d="M55.9 7V317.4H448.6" fill="none" stroke="#555" stroke-width="0.9"/>
<path d="M53.4 13.9H55.9" stroke="#555" stroke-width="0.7"/>
<text x="51.3" y="16.8" text-anchor="end" font-family="Liberation Serif" font-weight="bold" font-size="8" fill="#111">150</text>
<path d="M53.4 112.8H55.9" stroke="#555" stroke-width="0.7"/>
<text x="51.3" y="115.7" text-anchor="end" font-family="Liberation Serif" font-weight="bold" font-size="8" fill="#111">100</text>
<path d="M53.4 211.7H55.9" stroke="#555" stroke-width="0.7"/>
<text x="51.3" y="214.6" text-anchor="end" font-family="Liberation Serif" font-weight="bold" font-size="8" fill="#111">50</text>
<path d="M53.4 310.6H55.9" stroke="#555" stroke-width="0.7"/>
<text x="51.3" y="313.5" text-anchor="end" font-family="Liberation Serif" font-weight="bold" font-size="8" fill="#111">0</text>
<path d="M163.6 317.4V319.9" stroke="#555" stroke-width="0.7"/>
<text x="163.6" y="327" text-anchor="middle" font-family="Liberation Serif" font-weight="bold" font-size="8.2" fill="#111">0.4</text>
<path d="M276.2 317.4V319.9" stroke="#555" stroke-width="0.7"/>
<text x="276.2" y="327" text-anchor="middle" font-family="Liberation Serif" font-weight="bold" font-size="8.2" fill="#111">0.6</text>
<path d="M388.8 317.4V319.9" stroke="#555" stroke-width="0.7"/>
<text x="388.8" y="327" text-anchor="middle" font-family="Liberation Serif" font-weight="bold" font-size="8.2" fill="#111">0.8</text>
<text x="259" y="338.5" text-anchor="middle" font-family="Liberation Serif" font-weight="bold" font-size="13" fill="#000">SDI</text>
<text transform="translate(32.8 147.3) rotate(-90)" text-anchor="middle" font-family="Liberation Serif" font-weight="bold" font-size="8.1" fill="#000">Death rate per 100, 000 population</text>
<circle cx="436.5" cy="79.8" r="1.95" fill="none" stroke="#f47a6c" stroke-width="0.6"/>
<text x="443.1" y="82.3" font-family="Liberation Sans" font-size="7" fill="#3a3a3a">Global</text>
<path d="M436.5 83.9L438.9 88.0L434.1 88.0Z" fill="none" stroke="#35b8d8" stroke-width="0.55"/>
<text x="443.1" y="88.8" font-family="Liberation Sans" font-size="7" fill="#3a3a3a">High−income Asia Pacific</text>
<path d="M434.2 92.9H438.8M436.5 90.7V95.2" stroke="#2bb99a" stroke-width="0.7"/>
<text x="443.1" y="95.4" font-family="Liberation Sans" font-size="7" fill="#3a3a3a">High−income North America</text>
<path d="M434.7 97.6L438.3 101.2M434.7 101.2L438.3 97.6" stroke="#4c5a9c" stroke-width="0.65"/>
<text x="443.1" y="101.9" font-family="Liberation Sans" font-size="7" fill="#3a3a3a">Western Europe</text>
<path d="M436.5 103.5L439.1 106.0L436.5 108.5L433.9 106.0Z" fill="none" stroke="#f59a82" stroke-width="0.55"/>
<text x="443.1" y="108.5" font-family="Liberation Sans" font-size="7" fill="#3a3a3a">Australasia</text>
<path d="M436.5 114.9L438.9 110.8L434.1 110.8Z" fill="none" stroke="#9297cc" stroke-width="0.55"/>
<text x="443.1" y="115.0" font-family="Liberation Sans" font-size="7" fill="#3a3a3a">Andean Latin America</text>
<rect x="434.7" y="117.2" width="3.6" height="3.6" fill="#72d1b9" fill-opacity="0.6" stroke="#72d1b9" stroke-width="0.4"/>
<text x="443.1" y="121.5" font-family="Liberation Sans" font-size="7" fill="#3a3a3a">Tropical Latin America</text>
<path d="M434.2 125.6H438.8M436.5 123.3V127.8M434.9 124.0L438.1 127.2M434.9 127.2L438.1 124.0" stroke="#ef4a3a" stroke-width="0.6"/>
<text x="443.1" y="128.1" font-family="Liberation Sans" font-size="7" fill="#3a3a3a">Central Latin America</text>
<path d="M436.5 129.5L439.1 132.1L436.5 134.7L433.9 132.1Z" fill="#9d7c69" fill-opacity="0.7" stroke="#9d7c69" stroke-width="0.5"/>
<text x="443.1" y="134.6" font-family="Liberation Sans" font-size="7" fill="#3a3a3a">Southern Latin America</text>
<circle cx="436.5" cy="138.7" r="1.95" fill="#6f6fc0" fill-opacity="0.55" stroke="#6f6fc0" stroke-width="0.6"/>
<text x="443.1" y="141.2" font-family="Liberation Sans" font-size="7" fill="#3a3a3a">Caribbean</text>
<path d="M436.5 142.8L438.9 146.6L434.1 146.6ZM436.5 147.6L438.9 143.8L434.1 143.8Z" fill="none" stroke="#f2603f" stroke-width="0.6"/>
<text x="443.1" y="147.7" font-family="Liberation Sans" font-size="7" fill="#3a3a3a">Central Europe</text>
<rect x="434.7" y="149.9" width="3.6" height="3.6" fill="#43a96c" fill-opacity="0.6" stroke="#43a96c" stroke-width="0.4"/>
<text x="443.1" y="154.2" font-family="Liberation Sans" font-size="7" fill="#3a3a3a">Eastern Europe</text>
<rect x="434.7" y="156.5" width="3.6" height="3.6" fill="#9a5bab" fill-opacity="0.6" stroke="#9a5bab" stroke-width="0.4"/>
<text x="443.1" y="160.8" font-family="Liberation Sans" font-size="7" fill="#3a3a3a">Central Asia</text>
<rect x="434.6" y="162.9" width="3.9" height="3.9" fill="none" stroke="#2fa7aa" stroke-width="0.6"/><circle cx="436.5" cy="164.8" r="1.05" fill="none" stroke="#2fa7aa" stroke-width="0.5"/>
<text x="443.1" y="167.3" font-family="Liberation Sans" font-size="7" fill="#3a3a3a">North Africa and Middle East</text>
<rect x="434.8" y="169.7" width="3.4" height="3.4" fill="#e94a3c"/>
<text x="443.1" y="173.9" font-family="Liberation Sans" font-size="7" fill="#3a3a3a">South Asia</text>
<circle cx="436.5" cy="177.9" r="1.65" fill="#7358b9"/>
<text x="443.1" y="180.4" font-family="Liberation Sans" font-size="7" fill="#3a3a3a">Southeast Asia</text>
<path d="M436.5 182.0L438.9 186.1L434.1 186.1Z" fill="#d23d62"/>
<text x="443.1" y="186.9" font-family="Liberation Sans" font-size="7" fill="#3a3a3a">East Asia</text>
<path d="M435.0 191.0H438.0M436.5 189.5V192.5" stroke="#8e8e8e" stroke-width="0.7"/>
<text x="443.1" y="193.5" font-family="Liberation Sans" font-size="7" fill="#3a3a3a">Oceania</text>
<circle cx="436.5" cy="197.5" r="2.03" fill="#e9603a"/>
<text x="443.1" y="200.0" font-family="Liberation Sans" font-size="7" fill="#3a3a3a">Western Sub−Saharan Africa</text>
<circle cx="436.5" cy="204.1" r="1.35" fill="#2c7bd6"/>
<text x="443.1" y="206.6" font-family="Liberation Sans" font-size="7" fill="#3a3a3a">Eastern Sub−Saharan Africa</text>
<path d="M436.5 208.0L439.1 210.6L436.5 213.2L433.9 210.6Z" fill="none" stroke="#f3a463" stroke-width="0.55"/>
<text x="443.1" y="213.1" font-family="Liberation Sans" font-size="7" fill="#3a3a3a">Central Sub−Saharan Africa</text>
<rect x="434.7" y="215.3" width="3.6" height="3.6" fill="none" stroke="#4ea87e" stroke-width="0.6"/>
<text x="443.1" y="219.6" font-family="Liberation Sans" font-size="7" fill="#3a3a3a">Southern Sub−Saharan Africa</text>
<text x="2" y="355" font-family="Liberation Serif" font-size="14.5" fill="#000">B</text>
<path d="M75.5 472.5C78.9 475.7 88.9 484.1 96.0 491.5C103.1 498.9 111.3 509.8 118.0 517.0C124.7 524.2 129.9 528.9 136.0 534.5C142.1 540.1 148.4 545.7 154.5 550.5C160.6 555.3 166.6 559.5 172.7 563.5C178.8 567.5 186.4 571.8 191.0 574.5C195.6 577.2 195.5 577.5 200.0 579.5C204.5 581.5 212.0 584.2 218.0 586.5C224.0 588.8 229.9 591.3 236.0 593.5C242.1 595.7 248.4 597.6 254.5 599.5C260.6 601.4 266.8 603.0 272.7 605.0C278.6 607.0 284.1 610.0 290.0 611.8C295.9 613.5 302.0 614.5 308.0 615.5C314.0 616.5 319.9 617.4 326.0 618.0C332.1 618.6 338.4 618.8 344.5 619.1C350.6 619.4 355.1 619.5 362.7 620.0C370.3 620.5 382.9 621.5 390.0 621.8C397.1 622.1 399.2 622.2 405.0 621.7C410.8 621.2 418.3 620.2 425.0 619.1C431.7 618.0 438.3 616.3 445.0 614.9C451.7 613.5 458.9 611.8 465.0 610.6C471.1 609.4 479.0 608.0 481.8 607.5L481.8 648.5C479.0 648.2 471.1 647.4 465.0 646.6C458.9 645.8 451.7 644.6 445.0 643.9C438.3 643.1 431.7 642.6 425.0 642.1C418.3 641.6 410.8 641.1 405.0 640.7C399.2 640.3 397.1 640.1 390.0 639.8C382.9 639.5 370.3 639.3 362.7 639.0C355.1 638.7 350.6 638.6 344.5 638.1C338.4 637.6 332.1 636.9 326.0 636.0C319.9 635.1 314.0 633.9 308.0 632.5C302.0 631.1 295.9 629.5 290.0 627.8C284.1 626.0 278.6 623.9 272.7 622.0C266.8 620.1 260.6 618.6 254.5 616.5C248.4 614.4 242.1 612.0 236.0 609.5C229.9 607.0 224.0 603.8 218.0 601.5C212.0 599.2 204.5 597.0 200.0 595.5C195.5 594.0 195.6 594.2 191.0 592.5C186.4 590.8 178.8 588.0 172.7 585.5C166.6 583.0 160.6 580.3 154.5 577.5C148.4 574.7 142.1 571.6 136.0 568.5C129.9 565.4 124.7 563.0 118.0 559.0C111.3 555.0 103.1 548.8 96.0 544.5C88.9 540.2 78.9 535.3 75.5 533.5Z" fill="#999" fill-opacity="0.45"/>
<path d="M75.5 503.0C78.9 505.5 88.9 512.2 96.0 518.0C103.1 523.8 111.3 532.4 118.0 538.0C124.7 543.6 129.9 547.2 136.0 551.5C142.1 555.8 148.4 560.2 154.5 564.0C160.6 567.8 166.6 571.2 172.7 574.5C178.8 577.8 186.4 581.3 191.0 583.5C195.6 585.7 195.5 585.8 200.0 587.5C204.5 589.2 212.0 591.7 218.0 594.0C224.0 596.3 229.9 599.2 236.0 601.5C242.1 603.8 248.4 606.0 254.5 608.0C260.6 610.0 266.8 611.5 272.7 613.5C278.6 615.5 284.1 618.0 290.0 619.8C295.9 621.5 302.0 622.8 308.0 624.0C314.0 625.2 319.9 626.2 326.0 627.0C332.1 627.8 338.4 628.2 344.5 628.6C350.6 629.0 355.1 629.1 362.7 629.5C370.3 629.9 382.9 630.5 390.0 630.8C397.1 631.1 399.2 631.2 405.0 631.2C410.8 631.2 418.3 630.9 425.0 630.6C431.7 630.3 438.3 629.7 445.0 629.4C451.7 629.1 458.9 628.8 465.0 628.6C471.1 628.4 479.0 628.1 481.8 628.0" fill="none" stroke="#4d6a86" stroke-width="1.4"/>
<path d="M70.7 617.3L160 606" stroke="#18acd8" stroke-width="0.45"/>
<path d="M372 567L360 615" stroke="#24ab92" stroke-width="0.45"/>
<path d="M404 567L372 620" stroke="#34aa60" stroke-width="0.45"/>
<path d="M383 576L370 618" stroke="#24ab92" stroke-width="0.45"/>
<path d="M415 577L377 618" stroke="#18acd8" stroke-width="0.45"/>
<path d="M404 585L385 615" stroke="#9096d0" stroke-width="0.45"/>
<path d="M420 592L398 625" stroke="#34aa60" stroke-width="0.45"/>
<path d="M355 577L360 622" stroke="#f07868" stroke-width="0.45"/>
<path d="M345 567L350 620" stroke="#f070a0" stroke-width="0.45"/>
<path d="M370 558L350 620" stroke="#24ab92" stroke-width="0.45"/>
<path d="M340 558L345 618" stroke="#c6ab5a" stroke-width="0.45"/>
<path d="M345 585L360 615" stroke="#18acd8" stroke-width="0.45"/>
<path d="M356 600L334 614" stroke="#f070a0" stroke-width="0.45"/>
<path d="M384 600L362 618" stroke="#f070a0" stroke-width="0.45"/>
<path d="M158.8 540.4L171 545" stroke="#34aa60" stroke-width="0.45"/>
<path d="M111 548.5L116 555" stroke="#c6ab5a" stroke-width="0.45"/>
<path d="M95 555L102 556.6" stroke="#f0a050" stroke-width="0.45"/>
<path d="M197 533L180 553" stroke="#9096d0" stroke-width="0.45"/>
<path d="M220 550L197 558" stroke="#f070a0" stroke-width="0.45"/>
<path d="M241 551L230.4 556.5" stroke="#6a8ec8" stroke-width="0.45"/>
<path d="M167.6 558L169.2 556.8" stroke="#24ab92" stroke-width="0.45"/>
<path d="M131 624L190 609.5" stroke="#a890c8" stroke-width="0.45"/>
<path d="M155.5 623.4L174.5 614" stroke="#34aa60" stroke-width="0.45"/>
<path d="M128.5 632L133 631.5" stroke="#c890c8" stroke-width="0.45"/>
<path d="M174.5 650.5L171 650.5" stroke="#18acd8" stroke-width="0.45"/>
<path d="M186.6 659L189 659" stroke="#24ab92" stroke-width="0.45"/>
<path d="M218 541L232 612" stroke="#24ab92" stroke-width="0.45"/>
<path d="M266 542L310 608" stroke="#34aa60" stroke-width="0.45"/>
<path d="M265 559L282 560" stroke="#f070a0" stroke-width="0.45"/>
<path d="M285 552L318 606" stroke="#a890c8" stroke-width="0.45"/>
<path d="M256 560L264.5 573.5" stroke="#18acd8" stroke-width="0.45"/>
<path d="M298 558L330 606" stroke="#c890c8" stroke-width="0.45"/>
<path d="M223 569L223.3 577.6" stroke="#f0a050" stroke-width="0.45"/>
<path d="M215 578L220.7 584.4" stroke="#24ab92" stroke-width="0.45"/>
<path d="M300 567L316 600" stroke="#a8aa48" stroke-width="0.45"/>
<path d="M331 567L346 610" stroke="#c890c8" stroke-width="0.45"/>
<path d="M352 567L348 620" stroke="#f070a0" stroke-width="0.45"/>
<path d="M372 567L370 625" stroke="#24ab92" stroke-width="0.45"/>
<path d="M380 567L392 622" stroke="#24ab92" stroke-width="0.45"/>
<path d="M404 567L395 620" stroke="#34aa60" stroke-width="0.45"/>
<path d="M360 558L340 603" stroke="#f0a050" stroke-width="0.45"/>
<path d="M312 558L322 600" stroke="#34aa60" stroke-width="0.45"/>
<path d="M380 576L365 622" stroke="#24ab92" stroke-width="0.45"/>
<path d="M420 576L375 621" stroke="#18acd8" stroke-width="0.45"/>
<path d="M434 560L389 618" stroke="#18acd8" stroke-width="0.45"/>
<path d="M440 572L400 621" stroke="#f070a0" stroke-width="0.45"/>
<path d="M450 575L405 621" stroke="#24ab92" stroke-width="0.45"/>
<path d="M474 575L415 620" stroke="#18acd8" stroke-width="0.45"/>
<path d="M495 578L420 621" stroke="#24ab92" stroke-width="0.45"/>
<path d="M480 588L430 623" stroke="#a8aa48" stroke-width="0.45"/>
<path d="M520 588L436 623" stroke="#f0a050" stroke-width="0.45"/>
<path d="M470 596L438 622" stroke="#c890c8" stroke-width="0.45"/>
<path d="M503 596L445 625" stroke="#f0a050" stroke-width="0.45"/>
<path d="M430 593L412 622" stroke="#34aa60" stroke-width="0.45"/>
<path d="M450 593L425 622" stroke="#f0a050" stroke-width="0.45"/>
<path d="M418 602L398 625" stroke="#f070a0" stroke-width="0.45"/>
<path d="M450 602L410 624" stroke="#34aa60" stroke-width="0.45"/>
<path d="M480 605L446 627" stroke="#18acd8" stroke-width="0.45"/>
<path d="M500 605L452 627" stroke="#f070a0" stroke-width="0.45"/>
<path d="M500 612L458 628" stroke="#f07868" stroke-width="0.45"/>
<path d="M516 612L462 628" stroke="#34aa60" stroke-width="0.45"/>
<path d="M440 612L425 624" stroke="#18acd8" stroke-width="0.45"/>
<path d="M470 612L440 626" stroke="#f070a0" stroke-width="0.45"/>
<path d="M525 621L470 631" stroke="#a890c8" stroke-width="0.45"/>
<path d="M504 630L474 632" stroke="#f070a0" stroke-width="0.45"/>
<path d="M516 631L470 633" stroke="#2a8fd0" stroke-width="0.45"/>
<path d="M470 638L420 634" stroke="#18acd8" stroke-width="0.45"/>
<path d="M497 638L430 634" stroke="#24ab92" stroke-width="0.45"/>
<path d="M510 638L440 634" stroke="#18acd8" stroke-width="0.45"/>
<path d="M470 647L420 637" stroke="#f070a0" stroke-width="0.45"/>
<path d="M520 647L442 638" stroke="#24ab92" stroke-width="0.45"/>
<path d="M472 656L430 639" stroke="#34aa60" stroke-width="0.45"/>
<path d="M500 656L448 638" stroke="#c890c8" stroke-width="0.45"/>
<path d="M486 665L440 640" stroke="#34aa60" stroke-width="0.45"/>
<path d="M512 664L452 640" stroke="#f070a0" stroke-width="0.45"/>
<path d="M470 673L418 641" stroke="#a890c8" stroke-width="0.45"/>
<path d="M500 673L432 641" stroke="#34aa60" stroke-width="0.45"/>
<path d="M440 673L404 642" stroke="#18acd8" stroke-width="0.45"/>
<path d="M455 673L412 642" stroke="#24ab92" stroke-width="0.45"/>
<path d="M420 673L395 641" stroke="#34aa60" stroke-width="0.45"/>
<path d="M447 656L400 639" stroke="#f070a0" stroke-width="0.45"/>
<path d="M445 664L390 639" stroke="#a890c8" stroke-width="0.45"/>
<path d="M420 664L380 638" stroke="#f070a0" stroke-width="0.45"/>
<path d="M400 664L386 637" stroke="#f0a050" stroke-width="0.45"/>
<path d="M400 656L382 637" stroke="#18acd8" stroke-width="0.45"/>
<path d="M380 672L375 641" stroke="#f07868" stroke-width="0.45"/>
<path d="M305 575L338 625" stroke="#f07868" stroke-width="0.45"/>
<path d="M330 575L342 622" stroke="#f070a0" stroke-width="0.45"/>
<path d="M350 575L352 623" stroke="#f07868" stroke-width="0.45"/>
<path d="M275 575L300 612" stroke="#9096d0" stroke-width="0.45"/>
<path d="M260 584L290 615" stroke="#24ab92" stroke-width="0.45"/>
<path d="M275 592L300 619" stroke="#18acd8" stroke-width="0.45"/>
<path d="M292 592L305 612" stroke="#18acd8" stroke-width="0.45"/>
<path d="M300 584L322 616" stroke="#34aa60" stroke-width="0.45"/>
<path d="M320 584L328 618" stroke="#18acd8" stroke-width="0.45"/>
<path d="M340 584L335 620" stroke="#18acd8" stroke-width="0.45"/>
<path d="M360 584L345 620" stroke="#f07868" stroke-width="0.45"/>
<path d="M340 592L325 620" stroke="#34aa60" stroke-width="0.45"/>
<path d="M270 601L282 615" stroke="#24ab92" stroke-width="0.45"/>
<path d="M290 601L298 616" stroke="#34aa60" stroke-width="0.45"/>
<path d="M285 610L292 618" stroke="#18acd8" stroke-width="0.45"/>
<path d="M310 610L314 620" stroke="#c6ab5a" stroke-width="0.45"/>
<path d="M330 610L326 622" stroke="#f070a0" stroke-width="0.45"/>
<path d="M360 610L350 624" stroke="#a890c8" stroke-width="0.45"/>
<path d="M240 626L258 618" stroke="#f070a0" stroke-width="0.45"/>
<path d="M240 636L275 626" stroke="#c6ab5a" stroke-width="0.45"/>
<path d="M200 642L255 628" stroke="#34aa60" stroke-width="0.45"/>
<path d="M199 650L262 632" stroke="#18acd8" stroke-width="0.45"/>
<path d="M215 654L275 634" stroke="#f070a0" stroke-width="0.45"/>
<path d="M186 659L270 636" stroke="#24ab92" stroke-width="0.45"/>
<path d="M216 668L290 640" stroke="#34aa60" stroke-width="0.45"/>
<path d="M243 672L300 642" stroke="#9096d0" stroke-width="0.45"/>
<path d="M263 672L305 645" stroke="#9096d0" stroke-width="0.45"/>
<path d="M283 672L318 646" stroke="#c6ab5a" stroke-width="0.45"/>
<path d="M308 672L325 646" stroke="#24ab92" stroke-width="0.45"/>
<path d="M334 672L330 650" stroke="#34aa60" stroke-width="0.45"/>
<path d="M357 672L360 650" stroke="#f07868" stroke-width="0.45"/>
<path d="M300 663L320 650" stroke="#c890c8" stroke-width="0.45"/>
<path d="M298 645L320 640" stroke="#a8aa48" stroke-width="0.45"/>
<path d="M336 647L345 642" stroke="#c890c8" stroke-width="0.45"/>
<path d="M372 648L360 641" stroke="#c890c8" stroke-width="0.45"/>
<path d="M200 641L280 630" stroke="#18acd8" stroke-width="0.45"/>
<path d="M290 637L305 631" stroke="#18acd8" stroke-width="0.45"/>
<path d="M313 637L320 631" stroke="#f070a0" stroke-width="0.45"/>
<path d="M360 637L350 632" stroke="#18acd8" stroke-width="0.45"/>
<path d="M283 635L262 630" stroke="#c6ab5a" stroke-width="0.45"/>
<path d="M224 618L248 611" stroke="#c6ab5a" stroke-width="0.45"/>
<path d="M242 627L260 622" stroke="#f070a0" stroke-width="0.45"/>
<path d="M209 614L230 603" stroke="#a8aa48" stroke-width="0.45"/>
<path d="M209 623L240 610" stroke="#34aa60" stroke-width="0.45"/>
<path d="M232 610L245 605" stroke="#34aa60" stroke-width="0.45"/>
<path d="M263 610L262 607" stroke="#c6ab5a" stroke-width="0.45"/>
<path d="M222 601L214 592" stroke="#18acd8" stroke-width="0.45"/>
<path d="M251 601L252 600" stroke="#24ab92" stroke-width="0.45"/>
<path d="M217 592L214 592" stroke="#f070a0" stroke-width="0.45"/>
<path d="M236 592L243 587" stroke="#f070a0" stroke-width="0.45"/>
<path d="M192 602L196 596" stroke="#18acd8" stroke-width="0.45"/>
<path d="M174 611L200 604" stroke="#f070a0" stroke-width="0.45"/>
<path d="M186 619L206 609" stroke="#c6ab5a" stroke-width="0.45"/>
<path d="M143 605L160 606" stroke="#a890c8" stroke-width="0.45"/>
<path d="M128 632L200 620" stroke="#c890c8" stroke-width="0.45"/>
<path d="M152 640L250 628" stroke="#f070a0" stroke-width="0.45"/>
<path d="M196 640L262 630" stroke="#18acd8" stroke-width="0.45"/>
<path d="M170 650L260 636" stroke="#18acd8" stroke-width="0.45"/>
<path d="M270 644L282 637" stroke="#a8aa48" stroke-width="0.45"/>
<path d="M280 653L296 640" stroke="#f070a0" stroke-width="0.45"/>
<circle cx="98" cy="355.8" r="0.95" fill="#e060a0"/>
<circle cx="132.5" cy="443" r="0.95" fill="#f07868"/>
<circle cx="198.7" cy="436" r="0.95" fill="#f07868"/>
<circle cx="337.3" cy="413" r="0.95" fill="#e848b0"/>
<circle cx="230.2" cy="488.9" r="0.95" fill="#2a8fd0"/>
<circle cx="252.9" cy="491" r="0.95" fill="#e070b0"/>
<circle cx="75.6" cy="481" r="0.95" fill="#c6ab5a"/>
<circle cx="131.8" cy="526" r="0.95" fill="#34aa60"/>
<circle cx="419.3" cy="524.2" r="0.95" fill="#34aa60"/>
<circle cx="360.5" cy="529.4" r="0.95" fill="#2a8fd0"/>
<circle cx="116" cy="555" r="0.95" fill="#c6ab5a"/>
<circle cx="102" cy="556.6" r="0.95" fill="#f0a050"/>
<circle cx="126.2" cy="559.2" r="0.95" fill="#18acd8"/>
<circle cx="92.3" cy="575.7" r="0.95" fill="#18acd8"/>
<circle cx="141.4" cy="574.5" r="0.95" fill="#24ab92"/>
<circle cx="145" cy="583.7" r="0.95" fill="#c890c8"/>
<circle cx="184" cy="588" r="0.95" fill="#a8aa48"/>
<circle cx="153.8" cy="591.7" r="0.95" fill="#f0a050"/>
<circle cx="104.3" cy="609" r="0.95" fill="#c6ab5a"/>
<circle cx="160" cy="606" r="0.95" fill="#18acd8"/>
<circle cx="159.2" cy="615" r="0.95" fill="#34aa60"/>
<circle cx="174.2" cy="607.4" r="0.95" fill="#f070a0"/>
<circle cx="174.5" cy="596.5" r="0.95" fill="#f070a0"/>
<circle cx="189" cy="593" r="0.95" fill="#18acd8"/>
<circle cx="171" cy="545" r="0.95" fill="#34aa60"/>
<circle cx="145" cy="552" r="0.95" fill="#34aa60"/>
<circle cx="169.2" cy="556.8" r="0.95" fill="#24ab92"/>
<circle cx="180" cy="553" r="0.95" fill="#9096d0"/>
<circle cx="197" cy="558" r="0.95" fill="#f070a0"/>
<circle cx="230.4" cy="556.5" r="0.95" fill="#6a8ec8"/>
<circle cx="196.5" cy="558.2" r="0.95" fill="#c6ab5a"/>
<circle cx="223.3" cy="577.6" r="0.95" fill="#f0a050"/>
<circle cx="264.5" cy="573.5" r="0.95" fill="#18acd8"/>
<circle cx="247.4" cy="582.7" r="0.95" fill="#18acd8"/>
<circle cx="433" cy="559" r="0.95" fill="#2a8fd0"/>
<circle cx="440.8" cy="570.4" r="0.95" fill="#f070a0"/>
<circle cx="215.6" cy="579.3" r="0.95" fill="#c6ab5a"/>
<circle cx="187" cy="593" r="0.95" fill="#f070a0"/>
<circle cx="190" cy="609.5" r="0.95" fill="#a890c8"/>
<circle cx="174.5" cy="614" r="0.95" fill="#34aa60"/>
<circle cx="182.7" cy="594" r="0.95" fill="#f070a0"/>
<circle cx="278" cy="597" r="0.95" fill="#34aa60"/>
<circle cx="136" cy="566" r="0.95" fill="#24ab92"/>
<circle cx="150" cy="570" r="0.95" fill="#18acd8"/>
<circle cx="196" cy="596" r="0.95" fill="#18acd8"/>
<circle cx="206" cy="609" r="0.95" fill="#c6ab5a"/>
<circle cx="214" cy="592" r="0.95" fill="#f070a0"/>
<circle cx="243" cy="587" r="0.95" fill="#f070a0"/>
<circle cx="252" cy="600" r="0.95" fill="#24ab92"/>
<circle cx="262" cy="607" r="0.95" fill="#c6ab5a"/>
<circle cx="245" cy="605" r="0.95" fill="#34aa60"/>
<circle cx="230" cy="603" r="0.95" fill="#a8aa48"/>
<circle cx="240" cy="610" r="0.95" fill="#34aa60"/>
<circle cx="258" cy="618" r="0.95" fill="#f070a0"/>
<circle cx="275" cy="626" r="0.95" fill="#c6ab5a"/>
<circle cx="255" cy="628" r="0.95" fill="#34aa60"/>
<circle cx="262" cy="632" r="0.95" fill="#18acd8"/>
<circle cx="275" cy="634" r="0.95" fill="#f070a0"/>
<circle cx="270" cy="636" r="0.95" fill="#24ab92"/>
<circle cx="290" cy="640" r="0.95" fill="#34aa60"/>
<circle cx="300" cy="642" r="0.95" fill="#9096d0"/>
<circle cx="305" cy="645" r="0.95" fill="#9096d0"/>
<circle cx="318" cy="646" r="0.95" fill="#c6ab5a"/>
<circle cx="325" cy="646" r="0.95" fill="#24ab92"/>
<circle cx="330" cy="650" r="0.95" fill="#34aa60"/>
<circle cx="360" cy="650" r="0.95" fill="#f07868"/>
<circle cx="320" cy="650" r="0.95" fill="#c890c8"/>
<circle cx="320" cy="640" r="0.95" fill="#a8aa48"/>
<circle cx="345" cy="642" r="0.95" fill="#c890c8"/>
<circle cx="360" cy="641" r="0.95" fill="#c890c8"/>
<circle cx="280" cy="630" r="0.95" fill="#18acd8"/>
<circle cx="305" cy="631" r="0.95" fill="#18acd8"/>
<circle cx="320" cy="631" r="0.95" fill="#f070a0"/>
<circle cx="350" cy="632" r="0.95" fill="#18acd8"/>
<circle cx="262" cy="630" r="0.95" fill="#c6ab5a"/>
<circle cx="282" cy="615" r="0.95" fill="#24ab92"/>
<circle cx="298" cy="616" r="0.95" fill="#34aa60"/>
<circle cx="292" cy="618" r="0.95" fill="#18acd8"/>
<circle cx="314" cy="620" r="0.95" fill="#c6ab5a"/>
<circle cx="326" cy="622" r="0.95" fill="#f070a0"/>
<circle cx="350" cy="624" r="0.95" fill="#a890c8"/>
<circle cx="282" cy="637" r="0.95" fill="#a8aa48"/>
<circle cx="296" cy="640" r="0.95" fill="#f070a0"/>
<circle cx="300" cy="612" r="0.95" fill="#9096d0"/>
<circle cx="290" cy="615" r="0.95" fill="#24ab92"/>
<circle cx="305" cy="612" r="0.95" fill="#18acd8"/>
<circle cx="322" cy="616" r="0.95" fill="#34aa60"/>
<circle cx="328" cy="618" r="0.95" fill="#18acd8"/>
<circle cx="335" cy="620" r="0.95" fill="#18acd8"/>
<circle cx="345" cy="620" r="0.95" fill="#f07868"/>
<circle cx="325" cy="620" r="0.95" fill="#34aa60"/>
<circle cx="338" cy="625" r="0.95" fill="#f07868"/>
<circle cx="342" cy="622" r="0.95" fill="#f070a0"/>
<circle cx="352" cy="623" r="0.95" fill="#f07868"/>
<circle cx="300" cy="602" r="0.95" fill="#24ab92"/>
<circle cx="310" cy="608" r="0.95" fill="#34aa60"/>
<circle cx="302" cy="585" r="0.95" fill="#c890c8"/>
<circle cx="316" cy="600" r="0.95" fill="#a8aa48"/>
<circle cx="346" cy="610" r="0.95" fill="#c890c8"/>
<circle cx="348" cy="620" r="0.95" fill="#f070a0"/>
<circle cx="370" cy="625" r="0.95" fill="#24ab92"/>
<circle cx="392" cy="622" r="0.95" fill="#24ab92"/>
<circle cx="395" cy="620" r="0.95" fill="#34aa60"/>
<circle cx="340" cy="603" r="0.95" fill="#f0a050"/>
<circle cx="322" cy="600" r="0.95" fill="#34aa60"/>
<circle cx="365" cy="622" r="0.95" fill="#24ab92"/>
<circle cx="375" cy="621" r="0.95" fill="#18acd8"/>
<circle cx="389" cy="618" r="0.95" fill="#18acd8"/>
<circle cx="400" cy="621" r="0.95" fill="#f070a0"/>
<circle cx="405" cy="621" r="0.95" fill="#24ab92"/>
<circle cx="415" cy="620" r="0.95" fill="#18acd8"/>
<circle cx="420" cy="621" r="0.95" fill="#24ab92"/>
<circle cx="430" cy="623" r="0.95" fill="#a8aa48"/>
<circle cx="436" cy="623" r="0.95" fill="#f0a050"/>
<circle cx="438" cy="622" r="0.95" fill="#c890c8"/>
<circle cx="445" cy="625" r="0.95" fill="#f0a050"/>
<circle cx="412" cy="622" r="0.95" fill="#34aa60"/>
<circle cx="425" cy="622" r="0.95" fill="#f0a050"/>
<circle cx="398" cy="625" r="0.95" fill="#f070a0"/>
<circle cx="410" cy="624" r="0.95" fill="#34aa60"/>
<circle cx="446" cy="627" r="0.95" fill="#18acd8"/>
<circle cx="452" cy="627" r="0.95" fill="#f070a0"/>
<circle cx="458" cy="628" r="0.95" fill="#f07868"/>
<circle cx="462" cy="628" r="0.95" fill="#34aa60"/>
<circle cx="425" cy="624" r="0.95" fill="#18acd8"/>
<circle cx="440" cy="626" r="0.95" fill="#f070a0"/>
<circle cx="470" cy="631" r="0.95" fill="#a890c8"/>
<circle cx="474" cy="632" r="0.95" fill="#f070a0"/>
<circle cx="470" cy="633" r="0.95" fill="#2a8fd0"/>
<circle cx="420" cy="634" r="0.95" fill="#18acd8"/>
<circle cx="430" cy="634" r="0.95" fill="#24ab92"/>
<circle cx="440" cy="634" r="0.95" fill="#18acd8"/>
<circle cx="420" cy="637" r="0.95" fill="#f070a0"/>
<circle cx="442" cy="638" r="0.95" fill="#24ab92"/>
<circle cx="430" cy="639" r="0.95" fill="#34aa60"/>
<circle cx="448" cy="638" r="0.95" fill="#c890c8"/>
<circle cx="440" cy="640" r="0.95" fill="#34aa60"/>
<circle cx="452" cy="640" r="0.95" fill="#f070a0"/>
<circle cx="418" cy="641" r="0.95" fill="#a890c8"/>
<circle cx="432" cy="641" r="0.95" fill="#34aa60"/>
<circle cx="404" cy="642" r="0.95" fill="#18acd8"/>
<circle cx="412" cy="642" r="0.95" fill="#24ab92"/>
<circle cx="395" cy="641" r="0.95" fill="#34aa60"/>
<circle cx="400" cy="639" r="0.95" fill="#f070a0"/>
<circle cx="390" cy="639" r="0.95" fill="#a890c8"/>
<circle cx="380" cy="638" r="0.95" fill="#f070a0"/>
<circle cx="386" cy="637" r="0.95" fill="#f0a050"/>
<circle cx="382" cy="637" r="0.95" fill="#18acd8"/>
<circle cx="375" cy="641" r="0.95" fill="#f07868"/>
<circle cx="200" cy="604" r="0.95" fill="#f070a0"/>
<circle cx="160" cy="615" r="0.95" fill="#34aa60"/>
<g font-family="Liberation Sans" stroke-width="0.18">
<text x="89" y="352.7" font-size="5.6" fill="#e060a0" stroke="#e060a0">South Sudan</text>
<text x="110" y="450.0" font-size="5.6" fill="#f07868" stroke="#f07868">Afghanistan</text>
<text x="183.2" y="443.0" font-size="5.6" fill="#f07868" stroke="#f07868">Yemen</text>
<text x="320.7" y="419.6" font-size="5.6" fill="#e848b0" stroke="#e848b0">Tokelau</text>
<text x="213.6" y="496.1" font-size="5.6" fill="#2a8fd0" stroke="#2a8fd0">Nigeria</text>
<text x="236.9" y="498.2" font-size="5.6" fill="#e070b0" stroke="#e070b0">Sudan</text>
<text x="76" y="477.8" font-size="5.6" fill="#c6ab5a" stroke="#c6ab5a">Chad</text>
<text x="413" y="521.6" font-size="5.6" fill="#34aa60" stroke="#34aa60">Greenland</text>
<text x="347.8" y="536.4" font-size="5.6" fill="#2a8fd0" stroke="#2a8fd0">Niue</text>
<text x="115.8" y="523.2" font-size="5.6" fill="#34aa60" stroke="#34aa60">Guinea</text>
<text x="163.3" y="533.2" font-size="5.6" fill="#9096d0" stroke="#9096d0">Papua New Guinea</text>
<text x="142.3" y="540.4" font-size="5.6" fill="#34aa60" stroke="#34aa60">Eritrea</text>
<text x="166.8" y="541.8" font-size="5.6" fill="#24ab92" stroke="#24ab92">Lao People’s Democratic Republic</text>
<text x="258" y="541.6" font-size="5.6" fill="#50b040" stroke="#50b040">Egypt</text>
<text x="77" y="547.8" font-size="5.6" fill="#c6ab5a" stroke="#c6ab5a">Central African Republic</text>
<text x="142.8" y="549.2" font-size="5.6" fill="#34aa60" stroke="#34aa60">Ethiopia</text>
<text x="163.6" y="550.4" font-size="5.6" fill="#f070a0" stroke="#f070a0">United Republic of Tanzania</text>
<text x="236.7" y="550.5" font-size="5.6" fill="#6a8ec8" stroke="#6a8ec8">Pakistan</text>
<text x="262.8" y="552.0" font-size="5.6" fill="#a49ad8" stroke="#a49ad8">Philippines</text>
<text x="62.6" y="556.2" font-size="5.6" fill="#dba55c" stroke="#dba55c">Burkina Faso</text>
<text x="306" y="556.8" font-size="5.6" fill="#34aa60" stroke="#34aa60">Iraq</text>
<text x="310.4" y="558.5" font-size="5.6" fill="#d8a040" stroke="#d8a040">Bosnia and Herzegovina</text>
<text x="367" y="558.5" font-size="5.6" fill="#24ab92" stroke="#24ab92">Jordan</text>
<text x="414.6" y="556.8" font-size="5.6" fill="#2a8fd0" stroke="#2a8fd0">New Zealand</text>
<text x="129" y="559.3" font-size="5.6" fill="#24ab92" stroke="#24ab92">Guinea-Bissau</text>
<text x="200" y="559.6" font-size="5.6" fill="#c6ab5a" stroke="#c6ab5a">Cameroon</text>
<text x="237" y="559.7" font-size="5.6" fill="#18acd8" stroke="#18acd8">Morocco</text>
<text x="274" y="559.9" font-size="5.6" fill="#c890c8" stroke="#c890c8">Saint Lucia</text>
<text x="88.2" y="564.3" font-size="5.6" fill="#18acd8" stroke="#18acd8">Mozambique</text>
<text x="177.5" y="563.3" font-size="5.6" fill="#f08060" stroke="#f08060">Angola</text>
<text x="423.5" y="566.4" font-size="5.6" fill="#f070a0" stroke="#f070a0">United States of America</text>
<text x="212.4" y="568.5" font-size="5.6" fill="#f0a050" stroke="#f0a050">Bangladesh</text>
<text x="238" y="568.5" font-size="5.6" fill="#f07ca0" stroke="#f07ca0">Syrian Arab Republic</text>
<text x="278" y="568.5" font-size="5.6" fill="#6a9a40" stroke="#6a9a40">Equatorial Guinea</text>
<text x="311" y="567.8" font-size="5.6" fill="#c890c8" stroke="#c890c8">South Africa</text>
<text x="342.3" y="567.8" font-size="5.6" fill="#f07ca0" stroke="#f07ca0">Uruguay</text>
<text x="368.5" y="567.0" font-size="5.6" fill="#24ab92" stroke="#24ab92">Kazakhstan</text>
<text x="399.5" y="566.7" font-size="5.6" fill="#34aa60" stroke="#34aa60">Georgia</text>
<text x="123.4" y="569.4" font-size="5.6" fill="#18acd8" stroke="#18acd8">Madagascar</text>
<text x="157" y="571.4" font-size="5.6" fill="#f080b0" stroke="#f080b0">Timor-Leste</text>
<text x="94.2" y="573.0" font-size="5.6" fill="#18acd8" stroke="#18acd8">Mali</text>
<text x="442.3" y="575.4" font-size="5.6" fill="#24ab92" stroke="#24ab92">Kuwait</text>
<text x="466.3" y="575.4" font-size="5.6" fill="#18acd8" stroke="#18acd8">Monaco</text>
<text x="491.8" y="578.8" font-size="5.6" fill="#24ab92" stroke="#24ab92">Ireland</text>
<text x="198.2" y="577.3" font-size="5.6" fill="#20b0b8" stroke="#20b0b8">Lesotho</text>
<text x="236.2" y="577.3" font-size="5.6" fill="#18acd8" stroke="#18acd8">Myanmar</text>
<text x="276" y="577.3" font-size="5.6" fill="#9096d0" stroke="#9096d0">Palestine</text>
<text x="304.7" y="577.2" font-size="5.6" fill="#f07868" stroke="#f07868">Algeria</text>
<text x="328" y="577.2" font-size="5.6" fill="#f07868" stroke="#f07868">Albania</text>
<text x="351" y="577.0" font-size="5.6" fill="#f09060" stroke="#f09060">Argentina</text>
<text x="380" y="576.5" font-size="5.6" fill="#24ab92" stroke="#24ab92">Lebanon</text>
<text x="409.2" y="576.5" font-size="5.6" fill="#18acd8" stroke="#18acd8">Malaysia</text>
<text x="144.8" y="580.6" font-size="5.6" fill="#24ab92" stroke="#24ab92">Liberia</text>
<text x="180.5" y="580.4" font-size="5.6" fill="#34aa60" stroke="#34aa60">Haiti</text>
<text x="110.2" y="589.7" font-size="5.6" fill="#c890c8" stroke="#c890c8">Sierra Leone</text>
<text x="150.3" y="589.2" font-size="5.6" fill="#a8aa48" stroke="#a8aa48">Côte d’Ivoire</text>
<text x="199.5" y="585.9" font-size="5.6" fill="#d0a060" stroke="#d0a060">Comoros</text>
<text x="226.3" y="585.9" font-size="5.6" fill="#34aa60" stroke="#34aa60">Ghana</text>
<text x="258.2" y="585.8" font-size="5.6" fill="#24ab92" stroke="#24ab92">Eswatini</text>
<text x="297" y="586.8" font-size="5.6" fill="#50b040" stroke="#50b040">Fiji</text>
<text x="309.3" y="585.7" font-size="5.6" fill="#18acd8" stroke="#18acd8">Mexico</text>
<text x="337.2" y="585.7" font-size="5.6" fill="#20a0c0" stroke="#20a0c0">Mauritius</text>
<text x="358.2" y="585.7" font-size="5.6" fill="#f09070" stroke="#f09070">American Samoa</text>
<text x="399.5" y="585.6" font-size="5.6" fill="#9096d0" stroke="#9096d0">Oman</text>
<text x="429.7" y="584.7" font-size="5.6" fill="#18acd8" stroke="#18acd8">Latvia</text>
<text x="440.6" y="584.2" font-size="5.6" fill="#a890c8" stroke="#a890c8">Russian Federation</text>
<text x="477.2" y="587.8" font-size="5.6" fill="#c0b040" stroke="#c0b040">Cyprus</text>
<text x="494.2" y="587.8" font-size="5.6" fill="#d8a860" stroke="#d8a860">Brunei Darussalam</text>
<text x="189.8" y="594.3" font-size="5.6" fill="#f07868" stroke="#f07868">Zimbabwe</text>
<text x="217.6" y="594.3" font-size="5.6" fill="#f07868" stroke="#f07868">Zambia</text>
<text x="241.1" y="594.3" font-size="5.6" fill="#24ab92" stroke="#24ab92">Guatemala</text>
<text x="271.4" y="594.2" font-size="5.6" fill="#20a0c0" stroke="#20a0c0">Namibia</text>
<text x="306" y="594.2" font-size="5.6" fill="#34aa60" stroke="#34aa60">Iran (Islamic Republic of)</text>
<text x="388" y="594.0" font-size="5.6" fill="#9096d0" stroke="#9096d0">Palau</text>
<text x="415.4" y="593.5" font-size="5.6" fill="#34aa60" stroke="#34aa60">Hungary</text>
<text x="437.4" y="593.5" font-size="5.6" fill="#f0a050" stroke="#f0a050">Bahamas</text>
<text x="456" y="596.6" font-size="5.6" fill="#c890c8" stroke="#c890c8">Saudi Arabia</text>
<text x="492.7" y="596.6" font-size="5.6" fill="#f0a050" stroke="#f0a050">Belgium</text>
<text x="133.8" y="598.5" font-size="5.6" fill="#f0a050" stroke="#f0a050">Benin</text>
<text x="152.8" y="598.7" font-size="5.6" fill="#f070a0" stroke="#f070a0">Uganda</text>
<text x="177.4" y="604.0" font-size="5.6" fill="#18acd8" stroke="#18acd8">Nepal</text>
<text x="196" y="602.6" font-size="5.6" fill="#18acd8" stroke="#18acd8">Mauritania</text>
<text x="235.8" y="602.7" font-size="5.6" fill="#24ab92" stroke="#24ab92">Kenya</text>
<text x="262.2" y="602.6" font-size="5.6" fill="#24ab92" stroke="#24ab92">India</text>
<text x="281.7" y="602.8" font-size="5.6" fill="#34aa60" stroke="#34aa60">Gabon</text>
<text x="341" y="602.2" font-size="5.6" fill="#f070a0" stroke="#f070a0">Türkiye</text>
<text x="372.3" y="602.2" font-size="5.6" fill="#f070a0" stroke="#f070a0">Ukraine</text>
<text x="392" y="602.3" font-size="5.6" fill="#f070a0" stroke="#f070a0">Trinidad and Tobago</text>
<text x="440.6" y="603.0" font-size="5.6" fill="#34aa60" stroke="#34aa60">France</text>
<text x="466.8" y="604.9" font-size="5.6" fill="#20a8c0" stroke="#20a8c0">Luxembourg</text>
<text x="490" y="604.9" font-size="5.6" fill="#f070a0" stroke="#f070a0">United Arab Emirates</text>
<text x="87.5" y="606.2" font-size="5.6" fill="#c6ab5a" stroke="#c6ab5a">Burundi</text>
<text x="136.8" y="607.3" font-size="5.6" fill="#c890c8" stroke="#c890c8">Senegal</text>
<text x="162.2" y="612.8" font-size="5.6" fill="#f070a0" stroke="#f070a0">Togo</text>
<text x="214.5" y="611.7" font-size="5.6" fill="#18acd8" stroke="#18acd8">Kiribati</text>
<text x="247.6" y="611.7" font-size="5.6" fill="#c6ab5a" stroke="#c6ab5a">Congo</text>
<text x="272" y="611.8" font-size="5.6" fill="#20a0c8" stroke="#20a0c8">Nauru</text>
<text x="293" y="611.8" font-size="5.6" fill="#d0a040" stroke="#d0a040">Botswana</text>
<text x="325.3" y="611.8" font-size="5.6" fill="#f070a0" stroke="#f070a0">Tunisia</text>
<text x="346.4" y="611.6" font-size="5.6" fill="#a890c8" stroke="#a890c8">Republic of Moldova</text>
<text x="391.5" y="611.4" font-size="5.6" fill="#40b040" stroke="#40b040">Dominica</text>
<text x="438.5" y="611.3" font-size="5.6" fill="#18acd8" stroke="#18acd8">Guam</text>
<text x="448" y="613.3" font-size="5.6" fill="#f07868" stroke="#f07868">United Kingdom</text>
<text x="488.4" y="613.3" font-size="5.6" fill="#f08060" stroke="#f08060">Austria</text>
<text x="511" y="613.8" font-size="5.6" fill="#34aa60" stroke="#34aa60">Germany</text>
<text x="52.4" y="620.0" font-size="5.6" fill="#18acd8" stroke="#18acd8">Malawi</text>
<text x="70.4" y="616.5" font-size="5.6" fill="#60a840" stroke="#60a840">Democratic Republic of the Congo</text>
<text x="191.5" y="616.3" font-size="5.6" fill="#d0a050" stroke="#d0a050">Bhutan</text>
<text x="160.3" y="621.2" font-size="5.6" fill="#c6ab5a" stroke="#c6ab5a">Cambodia</text>
<text x="224.6" y="620.0" font-size="5.6" fill="#c6ab5a" stroke="#c6ab5a">Cabo Verde</text>
<text x="279.6" y="621.5" font-size="5.6" fill="#f0a050" stroke="#f0a050">Belize</text>
<text x="308" y="621.2" font-size="5.6" fill="#24ab92" stroke="#24ab92">Indonesia</text>
<text x="335.7" y="620.6" font-size="5.6" fill="#9096d0" stroke="#9096d0">Panama</text>
<text x="375" y="620.4" font-size="5.6" fill="#f0a050" stroke="#f0a050">Bahrain</text>
<text x="407.2" y="618.7" font-size="5.6" fill="#f0a050" stroke="#f0a050">Croatia</text>
<text x="427.6" y="621.3" font-size="5.6" fill="#f0a050" stroke="#f0a050">Bermuda</text>
<text x="495.8" y="622.4" font-size="5.6" fill="#a890c8" stroke="#a890c8">San Marino</text>
<text x="111.2" y="624.6" font-size="5.6" fill="#a890c8" stroke="#a890c8">Rwanda</text>
<text x="136.4" y="625.3" font-size="5.6" fill="#34aa60" stroke="#34aa60">Gambia</text>
<text x="190.6" y="625.2" font-size="5.6" fill="#34aa60" stroke="#34aa60">Djibouti</text>
<text x="256" y="624.3" font-size="5.6" fill="#a890c8" stroke="#a890c8">Samoa</text>
<text x="227.5" y="628.5" font-size="5.6" fill="#f070a0" stroke="#f070a0">Tuvalu</text>
<text x="281" y="629.4" font-size="5.6" fill="#f07090" stroke="#f07090">Viet Nam</text>
<text x="301" y="629.4" font-size="5.6" fill="#f07868" stroke="#f07868">Azerbaijan</text>
<text x="326" y="629.4" font-size="5.6" fill="#f0a070" stroke="#f0a070">Seychelles</text>
<text x="407" y="627.8" font-size="5.6" fill="#f070a0" stroke="#f070a0">Slovakia</text>
<text x="449" y="623.7" font-size="5.6" fill="#f070a0" stroke="#f070a0">State of Qatar</text>
<text x="432.5" y="632.5" font-size="5.6" fill="#f0a050" stroke="#f0a050">Andorra</text>
<text x="486.5" y="631.5" font-size="5.6" fill="#f070a0" stroke="#f070a0">Sweden</text>
<text x="517.3" y="631.5" font-size="5.6" fill="#5090d0" stroke="#5090d0">Norway</text>
<text x="87.8" y="633.6" font-size="5.6" fill="#c890c8" stroke="#c890c8">Solomon Islands</text>
<text x="133.3" y="633.6" font-size="5.6" fill="#c890c8" stroke="#c890c8">São Tomé and Principe</text>
<text x="195.8" y="634.2" font-size="5.6" fill="#f070a0" stroke="#f070a0">Tajikistan</text>
<text x="210.8" y="636.8" font-size="5.6" fill="#d8a040" stroke="#d8a040">Bolivia (Plurinational State of)</text>
<text x="269.3" y="637.6" font-size="5.6" fill="#f070a0" stroke="#f070a0">Tonga</text>
<text x="293" y="637.8" font-size="5.6" fill="#20a8d0" stroke="#20a8d0">Maldives</text>
<text x="315" y="637.8" font-size="5.6" fill="#f080a0" stroke="#f080a0">Thailand</text>
<text x="342.5" y="637.8" font-size="5.6" fill="#f0a050" stroke="#f0a050">Barbados</text>
<text x="359.5" y="637.3" font-size="5.6" fill="#20a0c0" stroke="#20a0c0">North Macedonia</text>
<text x="470" y="639.6" font-size="5.6" fill="#18acd8" stroke="#18acd8">Lithuania</text>
<text x="497.5" y="639.6" font-size="5.6" fill="#24ab92" stroke="#24ab92">Iceland</text>
<text x="512.5" y="639.6" font-size="5.6" fill="#18acd8" stroke="#18acd8">Netherlands</text>
<text x="132.7" y="642.4" font-size="5.6" fill="#f07090" stroke="#f07090">Vanuatu</text>
<text x="156.4" y="642.5" font-size="5.6" fill="#18acd8" stroke="#18acd8">Marshall Islands</text>
<text x="187" y="643.6" font-size="5.6" fill="#34aa60" stroke="#34aa60">Democratic People’s Republic of Korea</text>
<text x="241.2" y="647.0" font-size="5.6" fill="#18acd8" stroke="#18acd8">Mongolia</text>
<text x="278.8" y="646.8" font-size="5.6" fill="#c8b050" stroke="#c8b050">Colombia</text>
<text x="318" y="647.8" font-size="5.6" fill="#c890c8" stroke="#c890c8">Sri Lanka</text>
<text x="334" y="648.6" font-size="5.6" fill="#c890c8" stroke="#c890c8">Saint Kitts and Nevis</text>
<text x="375.3" y="645.6" font-size="5.6" fill="#f07090" stroke="#f07090">Spain</text>
<text x="403" y="646.6" font-size="5.6" fill="#18acd8" stroke="#18acd8">Montenegro</text>
<text x="430.8" y="644.4" font-size="5.6" fill="#c0b040" stroke="#c0b040">Czechia</text>
<text x="455" y="648.6" font-size="5.6" fill="#f07868" stroke="#f07868">Canada</text>
<text x="471.6" y="648.8" font-size="5.6" fill="#a890c8" stroke="#a890c8">Republic of Korea</text>
<text x="522" y="648.8" font-size="5.6" fill="#24ab92" stroke="#24ab92">Japan</text>
<text x="88.4" y="651.9" font-size="5.6" fill="#18acd8" stroke="#18acd8">Micronesia (Federated States of)</text>
<text x="174" y="652.2" font-size="5.6" fill="#18acd8" stroke="#18acd8">Nicaragua</text>
<text x="193.8" y="654.6" font-size="5.6" fill="#f07090" stroke="#f07090">Venezuela (Bolivarian Republic of)</text>
<text x="385" y="653.5" font-size="5.6" fill="#f0a050" stroke="#f0a050">Bulgaria</text>
<text x="288.6" y="656.5" font-size="5.6" fill="#30a870" stroke="#30a870">Guyana</text>
<text x="313.2" y="656.5" font-size="5.6" fill="#a8aa48" stroke="#a8aa48">Costa Rica</text>
<text x="337.5" y="656.5" font-size="5.6" fill="#18acd8" stroke="#18acd8">Northern Mariana Islands</text>
<text x="431" y="657.2" font-size="5.6" fill="#c0a050" stroke="#c0a050">Israel</text>
<text x="420" y="657.6" font-size="5.6" fill="#f070a0" stroke="#f070a0">Virgin Islands</text>
<text x="446" y="657.2" font-size="5.6" fill="#f07090" stroke="#f07090">Andorra</text>
<text x="473.2" y="657.4" font-size="5.6" fill="#34aa60" stroke="#34aa60">Finland</text>
<text x="502.6" y="657.4" font-size="5.6" fill="#c890c8" stroke="#c890c8">Serbia</text>
<text x="161.6" y="660.7" font-size="5.6" fill="#24ab92" stroke="#24ab92">Honduras</text>
<text x="189.5" y="660.7" font-size="5.6" fill="#34aa60" stroke="#34aa60">El Salvador</text>
<text x="241.2" y="664.8" font-size="5.6" fill="#c890c8" stroke="#c890c8">Saint Vincent and the Grenadines</text>
<text x="327.8" y="665.8" font-size="5.6" fill="#20a8c8" stroke="#20a8c8">Jamaica</text>
<text x="352.2" y="664.6" font-size="5.6" fill="#a890c8" stroke="#a890c8">Portugal</text>
<text x="376.7" y="666.4" font-size="5.6" fill="#f070a0" stroke="#f070a0">Romania</text>
<text x="394.8" y="666.4" font-size="5.6" fill="#f0a050" stroke="#f0a050">Belarus</text>
<text x="417.8" y="666.4" font-size="5.6" fill="#a890c8" stroke="#a890c8">Puerto Rico</text>
<text x="442.3" y="666.4" font-size="5.6" fill="#f070a0" stroke="#f070a0">Singapore</text>
<text x="460.3" y="666.4" font-size="5.6" fill="#f070a0" stroke="#f070a0">Slovenia</text>
<text x="486.2" y="666.6" font-size="5.6" fill="#34aa60" stroke="#34aa60">Denmark</text>
<text x="513.5" y="665.8" font-size="5.6" fill="#f070a0" stroke="#f070a0">Switzerland</text>
<text x="166.2" y="669.6" font-size="5.6" fill="#50a850" stroke="#50a850">Dominican Republic</text>
<text x="221" y="673.8" font-size="5.6" fill="#9096d0" stroke="#9096d0">Paraguay</text>
<text x="251.9" y="673.8" font-size="5.6" fill="#9096d0" stroke="#9096d0">Peru</text>
<text x="268.3" y="673.8" font-size="5.6" fill="#d8a040" stroke="#d8a040">Brazil</text>
<text x="288.6" y="674.4" font-size="5.6" fill="#30a880" stroke="#30a880">Ecuador</text>
<text x="313.2" y="674.4" font-size="5.6" fill="#34aa60" stroke="#34aa60">Grenada</text>
<text x="339" y="674.4" font-size="5.6" fill="#f07868" stroke="#f07868">Armenia</text>
<text x="344.5" y="674.6" font-size="5.6" fill="#f09050" stroke="#f09050">Antigua and Barbuda</text>
<text x="404.6" y="674.7" font-size="5.6" fill="#34aa60" stroke="#34aa60">Greece</text>
<text x="432.4" y="674.7" font-size="5.6" fill="#18acd8" stroke="#18acd8">Malta</text>
<text x="453.6" y="674.7" font-size="5.6" fill="#24ab92" stroke="#24ab92">Italy</text>
<text x="470" y="674.7" font-size="5.6" fill="#a890c8" stroke="#a890c8">Poland</text>
<text x="499.5" y="674.7" font-size="5.6" fill="#34aa60" stroke="#34aa60">Estonia</text>
</g>
<path d="M28.6 341V677.6H542.7" fill="none" stroke="#555" stroke-width="0.9"/>
<path d="M26.1 406.4H28.6" stroke="#555" stroke-width="0.7"/>
<text x="24.4" y="409.4" text-anchor="end" font-family="Liberation Serif" font-weight="bold" font-size="8.3" fill="#111">90</text>
<path d="M26.1 491.6H28.6" stroke="#555" stroke-width="0.7"/>
<text x="24.4" y="494.6" text-anchor="end" font-family="Liberation Serif" font-weight="bold" font-size="8.3" fill="#111">60</text>
<path d="M26.1 576.9H28.6" stroke="#555" stroke-width="0.7"/>
<text x="24.4" y="579.9" text-anchor="end" font-family="Liberation Serif" font-weight="bold" font-size="8.3" fill="#111">30</text>
<path d="M26.1 662.2H28.6" stroke="#555" stroke-width="0.7"/>
<text x="24.4" y="665.2" text-anchor="end" font-family="Liberation Serif" font-weight="bold" font-size="8.3" fill="#111">0</text>
<path d="M51.2 677.6V680.1" stroke="#555" stroke-width="0.7"/>
<text x="51.2" y="687.3" text-anchor="middle" font-family="Liberation Serif" font-weight="bold" font-size="8.3" fill="#111">0.2</text>
<path d="M110.0 677.6V680.1" stroke="#555" stroke-width="0.7"/>
<text x="110.0" y="687.3" text-anchor="middle" font-family="Liberation Serif" font-weight="bold" font-size="8.3" fill="#111">0.3</text>
<path d="M168.8 677.6V680.1" stroke="#555" stroke-width="0.7"/>
<text x="168.8" y="687.3" text-anchor="middle" font-family="Liberation Serif" font-weight="bold" font-size="8.3" fill="#111">0.4</text>
<path d="M227.6 677.6V680.1" stroke="#555" stroke-width="0.7"/>
<text x="227.6" y="687.3" text-anchor="middle" font-family="Liberation Serif" font-weight="bold" font-size="8.3" fill="#111">0.5</text>
<path d="M286.4 677.6V680.1" stroke="#555" stroke-width="0.7"/>
<text x="286.4" y="687.3" text-anchor="middle" font-family="Liberation Serif" font-weight="bold" font-size="8.3" fill="#111">0.6</text>
<path d="M345.2 677.6V680.1" stroke="#555" stroke-width="0.7"/>
<text x="345.2" y="687.3" text-anchor="middle" font-family="Liberation Serif" font-weight="bold" font-size="8.3" fill="#111">0.7</text>
<path d="M404.0 677.6V680.1" stroke="#555" stroke-width="0.7"/>
<text x="404.0" y="687.3" text-anchor="middle" font-family="Liberation Serif" font-weight="bold" font-size="8.3" fill="#111">0.8</text>
<path d="M462.8 677.6V680.1" stroke="#555" stroke-width="0.7"/>
<text x="462.8" y="687.3" text-anchor="middle" font-family="Liberation Serif" font-weight="bold" font-size="8.3" fill="#111">0.9</text>
<path d="M521.6 677.6V680.1" stroke="#555" stroke-width="0.7"/>
<text x="521.6" y="687.3" text-anchor="middle" font-family="Liberation Serif" font-weight="bold" font-size="8.3" fill="#111">1.0</text>
<text x="262.7" y="697" text-anchor="middle" font-family="Liberation Serif" font-weight="bold" font-size="13" fill="#000">SDI</text>
<text transform="translate(12.6 486.2) rotate(-90)" text-anchor="middle" font-family="Liberation Serif" font-weight="bold" font-size="7.8" fill="#000">Death rate per 100, 000 population</text>
</svg></body></html>
